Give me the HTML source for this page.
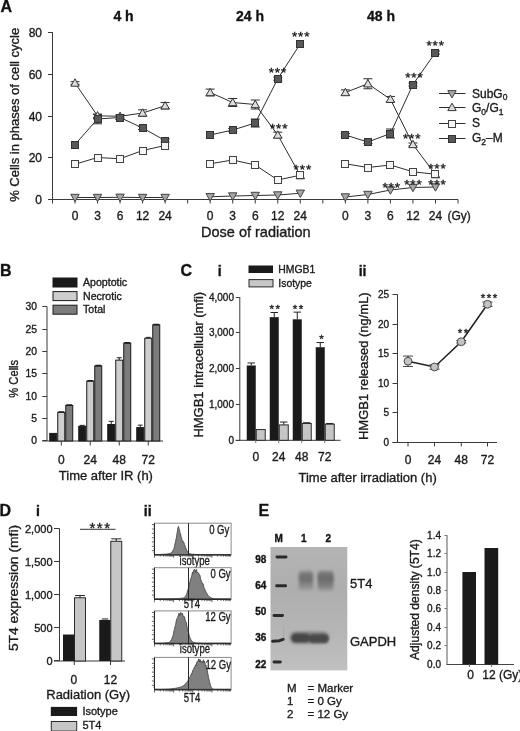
<!DOCTYPE html>
<html lang="en"><head><meta charset="utf-8"><title>Figure</title>
<style>
html,body{margin:0;padding:0;background:#fff;}
svg{display:block;font-family:"Liberation Sans",Arial,Helvetica,sans-serif;}
text{stroke:#1c1c1c;stroke-width:0.35px;}
</style></head><body>
<svg width="520" height="731" viewBox="0 0 520 731">
<rect x="0" y="0" width="520" height="731" fill="#ffffff"/>
<text x="0.50" y="12.00" font-size="16" text-anchor="start" font-weight="bold" fill="#111" >A</text>
<text x="123.50" y="21.00" font-size="14" text-anchor="middle" font-weight="bold" fill="#111" >4 h</text>
<text x="250.00" y="21.00" font-size="14" text-anchor="middle" font-weight="bold" fill="#111" >24 h</text>
<text x="381.00" y="21.00" font-size="14" text-anchor="middle" font-weight="bold" fill="#111" >48 h</text>
<line x1="52.50" y1="32.00" x2="52.50" y2="203.50" stroke="#3a3a3a" stroke-width="1" />
<line x1="48.00" y1="199.50" x2="458.00" y2="199.50" stroke="#3a3a3a" stroke-width="1" />
<line x1="48.00" y1="199.50" x2="52.50" y2="199.50" stroke="#3a3a3a" stroke-width="1" />
<text x="42.00" y="203.80" font-size="12" text-anchor="end" font-weight="normal" fill="#1c1c1c" >0</text>
<line x1="48.00" y1="157.50" x2="52.50" y2="157.50" stroke="#3a3a3a" stroke-width="1" />
<text x="42.00" y="161.80" font-size="12" text-anchor="end" font-weight="normal" fill="#1c1c1c" >20</text>
<line x1="48.00" y1="116.50" x2="52.50" y2="116.50" stroke="#3a3a3a" stroke-width="1" />
<text x="42.00" y="120.80" font-size="12" text-anchor="end" font-weight="normal" fill="#1c1c1c" >40</text>
<line x1="48.00" y1="74.50" x2="52.50" y2="74.50" stroke="#3a3a3a" stroke-width="1" />
<text x="42.00" y="78.80" font-size="12" text-anchor="end" font-weight="normal" fill="#1c1c1c" >60</text>
<line x1="48.00" y1="32.50" x2="52.50" y2="32.50" stroke="#3a3a3a" stroke-width="1" />
<text x="42.00" y="36.80" font-size="12" text-anchor="end" font-weight="normal" fill="#1c1c1c" >80</text>
<line x1="75.00" y1="199.50" x2="75.00" y2="203.50" stroke="#3a3a3a" stroke-width="1" />
<line x1="97.53" y1="199.50" x2="97.53" y2="203.50" stroke="#3a3a3a" stroke-width="1" />
<line x1="120.06" y1="199.50" x2="120.06" y2="203.50" stroke="#3a3a3a" stroke-width="1" />
<line x1="142.59" y1="199.50" x2="142.59" y2="203.50" stroke="#3a3a3a" stroke-width="1" />
<line x1="165.12" y1="199.50" x2="165.12" y2="203.50" stroke="#3a3a3a" stroke-width="1" />
<line x1="187.65" y1="199.50" x2="187.65" y2="203.50" stroke="#3a3a3a" stroke-width="1" />
<line x1="210.18" y1="199.50" x2="210.18" y2="203.50" stroke="#3a3a3a" stroke-width="1" />
<line x1="232.71" y1="199.50" x2="232.71" y2="203.50" stroke="#3a3a3a" stroke-width="1" />
<line x1="255.24" y1="199.50" x2="255.24" y2="203.50" stroke="#3a3a3a" stroke-width="1" />
<line x1="277.77" y1="199.50" x2="277.77" y2="203.50" stroke="#3a3a3a" stroke-width="1" />
<line x1="300.30" y1="199.50" x2="300.30" y2="203.50" stroke="#3a3a3a" stroke-width="1" />
<line x1="322.83" y1="199.50" x2="322.83" y2="203.50" stroke="#3a3a3a" stroke-width="1" />
<line x1="345.36" y1="199.50" x2="345.36" y2="203.50" stroke="#3a3a3a" stroke-width="1" />
<line x1="367.89" y1="199.50" x2="367.89" y2="203.50" stroke="#3a3a3a" stroke-width="1" />
<line x1="390.42" y1="199.50" x2="390.42" y2="203.50" stroke="#3a3a3a" stroke-width="1" />
<line x1="412.95" y1="199.50" x2="412.95" y2="203.50" stroke="#3a3a3a" stroke-width="1" />
<line x1="435.48" y1="199.50" x2="435.48" y2="203.50" stroke="#3a3a3a" stroke-width="1" />
<line x1="458.01" y1="199.50" x2="458.01" y2="203.50" stroke="#3a3a3a" stroke-width="1" />
<text transform="translate(19.00,201.80) rotate(-90)" font-size="13" text-anchor="start" fill="#1c1c1c"  textLength="174" lengthAdjust="spacingAndGlyphs">% Cells in phases of cell cycle</text>
<text x="75.00" y="219.50" font-size="12" text-anchor="middle" font-weight="normal" fill="#1c1c1c" >0</text>
<text x="97.53" y="219.50" font-size="12" text-anchor="middle" font-weight="normal" fill="#1c1c1c" >3</text>
<text x="120.06" y="219.50" font-size="12" text-anchor="middle" font-weight="normal" fill="#1c1c1c" >6</text>
<text x="142.59" y="219.50" font-size="12" text-anchor="middle" font-weight="normal" fill="#1c1c1c" >12</text>
<text x="165.12" y="219.50" font-size="12" text-anchor="middle" font-weight="normal" fill="#1c1c1c" >24</text>
<text x="210.18" y="219.50" font-size="12" text-anchor="middle" font-weight="normal" fill="#1c1c1c" >0</text>
<text x="232.71" y="219.50" font-size="12" text-anchor="middle" font-weight="normal" fill="#1c1c1c" >3</text>
<text x="255.24" y="219.50" font-size="12" text-anchor="middle" font-weight="normal" fill="#1c1c1c" >6</text>
<text x="277.77" y="219.50" font-size="12" text-anchor="middle" font-weight="normal" fill="#1c1c1c" >12</text>
<text x="300.30" y="219.50" font-size="12" text-anchor="middle" font-weight="normal" fill="#1c1c1c" >24</text>
<text x="345.36" y="219.50" font-size="12" text-anchor="middle" font-weight="normal" fill="#1c1c1c" >0</text>
<text x="367.89" y="219.50" font-size="12" text-anchor="middle" font-weight="normal" fill="#1c1c1c" >3</text>
<text x="390.42" y="219.50" font-size="12" text-anchor="middle" font-weight="normal" fill="#1c1c1c" >6</text>
<text x="412.95" y="219.50" font-size="12" text-anchor="middle" font-weight="normal" fill="#1c1c1c" >12</text>
<text x="435.48" y="219.50" font-size="12" text-anchor="middle" font-weight="normal" fill="#1c1c1c" >24</text>
<text x="447.50" y="219.50" font-size="12" text-anchor="start" font-weight="normal" fill="#1c1c1c" >(Gy)</text>
<text x="201.00" y="237.00" font-size="14.5" text-anchor="start" font-weight="normal" fill="#1c1c1c" >Dose of radiation</text>
<polyline points="75.00,197.50 97.53,197.50 120.06,197.30 142.59,197.50 165.12,197.50" fill="none" stroke="#2e2e2e" stroke-width="1"/>
<polyline points="75.00,164.25 97.53,157.50 120.06,158.75 142.59,150.50 165.12,145.50" fill="none" stroke="#2e2e2e" stroke-width="1"/>
<polyline points="75.00,83.00 97.53,115.80 120.06,116.30 142.59,113.00 165.12,105.75" fill="none" stroke="#2e2e2e" stroke-width="1"/>
<polyline points="75.00,144.50 97.53,119.00 120.06,117.50 142.59,128.00 165.12,140.50" fill="none" stroke="#2e2e2e" stroke-width="1"/>
<line x1="75.00" y1="81.70" x2="75.00" y2="84.30" stroke="#2e2e2e" stroke-width="1" />
<line x1="70.50" y1="81.70" x2="79.50" y2="81.70" stroke="#2e2e2e" stroke-width="1" />
<line x1="70.50" y1="84.30" x2="79.50" y2="84.30" stroke="#2e2e2e" stroke-width="1" />
<line x1="97.53" y1="114.30" x2="97.53" y2="117.30" stroke="#2e2e2e" stroke-width="1" />
<line x1="93.03" y1="114.30" x2="102.03" y2="114.30" stroke="#2e2e2e" stroke-width="1" />
<line x1="93.03" y1="117.30" x2="102.03" y2="117.30" stroke="#2e2e2e" stroke-width="1" />
<line x1="120.06" y1="114.80" x2="120.06" y2="117.80" stroke="#2e2e2e" stroke-width="1" />
<line x1="115.56" y1="114.80" x2="124.56" y2="114.80" stroke="#2e2e2e" stroke-width="1" />
<line x1="115.56" y1="117.80" x2="124.56" y2="117.80" stroke="#2e2e2e" stroke-width="1" />
<line x1="142.59" y1="109.80" x2="142.59" y2="116.20" stroke="#2e2e2e" stroke-width="1" />
<line x1="138.09" y1="109.80" x2="147.09" y2="109.80" stroke="#2e2e2e" stroke-width="1" />
<line x1="138.09" y1="116.20" x2="147.09" y2="116.20" stroke="#2e2e2e" stroke-width="1" />
<line x1="165.12" y1="102.55" x2="165.12" y2="108.95" stroke="#2e2e2e" stroke-width="1" />
<line x1="160.62" y1="102.55" x2="169.62" y2="102.55" stroke="#2e2e2e" stroke-width="1" />
<line x1="160.62" y1="108.95" x2="169.62" y2="108.95" stroke="#2e2e2e" stroke-width="1" />
<line x1="97.53" y1="114.20" x2="97.53" y2="123.80" stroke="#2e2e2e" stroke-width="1" />
<line x1="93.03" y1="114.20" x2="102.03" y2="114.20" stroke="#2e2e2e" stroke-width="1" />
<line x1="93.03" y1="123.80" x2="102.03" y2="123.80" stroke="#2e2e2e" stroke-width="1" />
<line x1="120.06" y1="115.50" x2="120.06" y2="119.50" stroke="#2e2e2e" stroke-width="1" />
<line x1="115.56" y1="115.50" x2="124.56" y2="115.50" stroke="#2e2e2e" stroke-width="1" />
<line x1="115.56" y1="119.50" x2="124.56" y2="119.50" stroke="#2e2e2e" stroke-width="1" />
<line x1="142.59" y1="126.50" x2="142.59" y2="129.50" stroke="#2e2e2e" stroke-width="1" />
<line x1="138.09" y1="126.50" x2="147.09" y2="126.50" stroke="#2e2e2e" stroke-width="1" />
<line x1="138.09" y1="129.50" x2="147.09" y2="129.50" stroke="#2e2e2e" stroke-width="1" />
<line x1="165.12" y1="139.00" x2="165.12" y2="142.00" stroke="#2e2e2e" stroke-width="1" />
<line x1="160.62" y1="139.00" x2="169.62" y2="139.00" stroke="#2e2e2e" stroke-width="1" />
<line x1="160.62" y1="142.00" x2="169.62" y2="142.00" stroke="#2e2e2e" stroke-width="1" />
<polygon points="75.00,201.70 79.20,194.30 70.80,194.30" fill="#a6a6a6" stroke="#444" stroke-width="1" stroke-linejoin="miter"/>
<polygon points="97.53,201.70 101.73,194.30 93.33,194.30" fill="#a6a6a6" stroke="#444" stroke-width="1" stroke-linejoin="miter"/>
<polygon points="120.06,201.50 124.26,194.10 115.86,194.10" fill="#a6a6a6" stroke="#444" stroke-width="1" stroke-linejoin="miter"/>
<polygon points="142.59,201.70 146.79,194.30 138.39,194.30" fill="#a6a6a6" stroke="#444" stroke-width="1" stroke-linejoin="miter"/>
<polygon points="165.12,201.70 169.32,194.30 160.92,194.30" fill="#a6a6a6" stroke="#444" stroke-width="1" stroke-linejoin="miter"/>
<polygon points="75.00,78.80 79.20,86.20 70.80,86.20" fill="#dcdcdc" stroke="#333" stroke-width="1" stroke-linejoin="miter"/>
<polygon points="97.53,111.60 101.73,119.00 93.33,119.00" fill="#dcdcdc" stroke="#333" stroke-width="1" stroke-linejoin="miter"/>
<polygon points="120.06,112.10 124.26,119.50 115.86,119.50" fill="#dcdcdc" stroke="#333" stroke-width="1" stroke-linejoin="miter"/>
<polygon points="142.59,108.80 146.79,116.20 138.39,116.20" fill="#dcdcdc" stroke="#333" stroke-width="1" stroke-linejoin="miter"/>
<polygon points="165.12,101.55 169.32,108.95 160.92,108.95" fill="#dcdcdc" stroke="#333" stroke-width="1" stroke-linejoin="miter"/>
<rect x="71.50" y="141.50" width="7.00" height="7.00" fill="#585858" stroke="#333" stroke-width="1" />
<rect x="94.50" y="115.50" width="7.00" height="7.00" fill="#585858" stroke="#333" stroke-width="1" />
<rect x="116.50" y="114.50" width="7.00" height="7.00" fill="#585858" stroke="#333" stroke-width="1" />
<rect x="139.50" y="124.50" width="7.00" height="7.00" fill="#585858" stroke="#333" stroke-width="1" />
<rect x="161.50" y="137.50" width="7.00" height="7.00" fill="#585858" stroke="#333" stroke-width="1" />
<rect x="71.50" y="160.50" width="7.00" height="7.00" fill="#f6f6f6" stroke="#444" stroke-width="1" />
<rect x="94.50" y="154.50" width="7.00" height="7.00" fill="#f6f6f6" stroke="#444" stroke-width="1" />
<rect x="116.50" y="155.50" width="7.00" height="7.00" fill="#f6f6f6" stroke="#444" stroke-width="1" />
<rect x="139.50" y="147.50" width="7.00" height="7.00" fill="#f6f6f6" stroke="#444" stroke-width="1" />
<rect x="161.50" y="142.50" width="7.00" height="7.00" fill="#f6f6f6" stroke="#444" stroke-width="1" />
<polyline points="210.18,196.75 232.71,196.00 255.24,195.50 277.77,195.00 300.30,193.25" fill="none" stroke="#2e2e2e" stroke-width="1"/>
<polyline points="210.18,163.75 232.71,160.00 255.24,165.00 277.77,180.00 300.30,175.20" fill="none" stroke="#2e2e2e" stroke-width="1"/>
<polyline points="210.18,92.50 232.71,102.50 255.24,104.50 277.77,135.00 300.30,175.60" fill="none" stroke="#2e2e2e" stroke-width="1"/>
<polyline points="210.18,135.00 232.71,130.00 255.24,123.00 277.77,78.75 300.30,43.75" fill="none" stroke="#2e2e2e" stroke-width="1"/>
<line x1="210.18" y1="89.10" x2="210.18" y2="95.90" stroke="#2e2e2e" stroke-width="1" />
<line x1="205.68" y1="89.10" x2="214.68" y2="89.10" stroke="#2e2e2e" stroke-width="1" />
<line x1="205.68" y1="95.90" x2="214.68" y2="95.90" stroke="#2e2e2e" stroke-width="1" />
<line x1="232.71" y1="98.50" x2="232.71" y2="106.50" stroke="#2e2e2e" stroke-width="1" />
<line x1="228.21" y1="98.50" x2="237.21" y2="98.50" stroke="#2e2e2e" stroke-width="1" />
<line x1="228.21" y1="106.50" x2="237.21" y2="106.50" stroke="#2e2e2e" stroke-width="1" />
<line x1="255.24" y1="100.00" x2="255.24" y2="109.00" stroke="#2e2e2e" stroke-width="1" />
<line x1="250.74" y1="100.00" x2="259.74" y2="100.00" stroke="#2e2e2e" stroke-width="1" />
<line x1="250.74" y1="109.00" x2="259.74" y2="109.00" stroke="#2e2e2e" stroke-width="1" />
<line x1="277.77" y1="132.20" x2="277.77" y2="137.80" stroke="#2e2e2e" stroke-width="1" />
<line x1="273.27" y1="132.20" x2="282.27" y2="132.20" stroke="#2e2e2e" stroke-width="1" />
<line x1="273.27" y1="137.80" x2="282.27" y2="137.80" stroke="#2e2e2e" stroke-width="1" />
<line x1="232.71" y1="128.50" x2="232.71" y2="131.50" stroke="#2e2e2e" stroke-width="1" />
<line x1="228.21" y1="128.50" x2="237.21" y2="128.50" stroke="#2e2e2e" stroke-width="1" />
<line x1="228.21" y1="131.50" x2="237.21" y2="131.50" stroke="#2e2e2e" stroke-width="1" />
<line x1="255.24" y1="119.00" x2="255.24" y2="127.00" stroke="#2e2e2e" stroke-width="1" />
<line x1="250.74" y1="119.00" x2="259.74" y2="119.00" stroke="#2e2e2e" stroke-width="1" />
<line x1="250.74" y1="127.00" x2="259.74" y2="127.00" stroke="#2e2e2e" stroke-width="1" />
<line x1="277.77" y1="77.25" x2="277.77" y2="80.25" stroke="#2e2e2e" stroke-width="1" />
<line x1="273.27" y1="77.25" x2="282.27" y2="77.25" stroke="#2e2e2e" stroke-width="1" />
<line x1="273.27" y1="80.25" x2="282.27" y2="80.25" stroke="#2e2e2e" stroke-width="1" />
<polygon points="210.18,200.95 214.38,193.55 205.98,193.55" fill="#a6a6a6" stroke="#444" stroke-width="1" stroke-linejoin="miter"/>
<polygon points="232.71,200.20 236.91,192.80 228.51,192.80" fill="#a6a6a6" stroke="#444" stroke-width="1" stroke-linejoin="miter"/>
<polygon points="255.24,199.70 259.44,192.30 251.04,192.30" fill="#a6a6a6" stroke="#444" stroke-width="1" stroke-linejoin="miter"/>
<polygon points="277.77,199.20 281.97,191.80 273.57,191.80" fill="#a6a6a6" stroke="#444" stroke-width="1" stroke-linejoin="miter"/>
<polygon points="300.30,197.45 304.50,190.05 296.10,190.05" fill="#a6a6a6" stroke="#444" stroke-width="1" stroke-linejoin="miter"/>
<polygon points="210.18,88.30 214.38,95.70 205.98,95.70" fill="#dcdcdc" stroke="#333" stroke-width="1" stroke-linejoin="miter"/>
<polygon points="232.71,98.30 236.91,105.70 228.51,105.70" fill="#dcdcdc" stroke="#333" stroke-width="1" stroke-linejoin="miter"/>
<polygon points="255.24,100.30 259.44,107.70 251.04,107.70" fill="#dcdcdc" stroke="#333" stroke-width="1" stroke-linejoin="miter"/>
<polygon points="277.77,130.80 281.97,138.20 273.57,138.20" fill="#dcdcdc" stroke="#333" stroke-width="1" stroke-linejoin="miter"/>
<polygon points="300.30,171.40 304.50,178.80 296.10,178.80" fill="#dcdcdc" stroke="#333" stroke-width="1" stroke-linejoin="miter"/>
<rect x="206.50" y="131.50" width="7.00" height="7.00" fill="#585858" stroke="#333" stroke-width="1" />
<rect x="229.50" y="126.50" width="7.00" height="7.00" fill="#585858" stroke="#333" stroke-width="1" />
<rect x="251.50" y="119.50" width="7.00" height="7.00" fill="#585858" stroke="#333" stroke-width="1" />
<rect x="274.50" y="75.50" width="7.00" height="7.00" fill="#585858" stroke="#333" stroke-width="1" />
<rect x="296.50" y="40.50" width="7.00" height="7.00" fill="#585858" stroke="#333" stroke-width="1" />
<rect x="206.50" y="160.50" width="7.00" height="7.00" fill="#f6f6f6" stroke="#444" stroke-width="1" />
<rect x="229.50" y="156.50" width="7.00" height="7.00" fill="#f6f6f6" stroke="#444" stroke-width="1" />
<rect x="251.50" y="161.50" width="7.00" height="7.00" fill="#f6f6f6" stroke="#444" stroke-width="1" />
<rect x="274.50" y="176.50" width="7.00" height="7.00" fill="#f6f6f6" stroke="#444" stroke-width="1" />
<rect x="296.50" y="171.50" width="7.00" height="7.00" fill="#f6f6f6" stroke="#444" stroke-width="1" />
<polyline points="345.36,197.00 367.89,194.50 390.42,190.00 412.95,187.50 435.48,187.00" fill="none" stroke="#2e2e2e" stroke-width="1"/>
<polyline points="345.36,163.75 367.89,167.50 390.42,165.00 412.95,171.75 435.48,174.25" fill="none" stroke="#2e2e2e" stroke-width="1"/>
<polyline points="345.36,92.50 367.89,83.75 390.42,99.25 412.95,144.50 435.48,174.60" fill="none" stroke="#2e2e2e" stroke-width="1"/>
<polyline points="345.36,135.00 367.89,142.00 390.42,133.50 412.95,84.50 435.48,52.50" fill="none" stroke="#2e2e2e" stroke-width="1"/>
<line x1="345.36" y1="89.90" x2="345.36" y2="95.10" stroke="#2e2e2e" stroke-width="1" />
<line x1="340.86" y1="89.90" x2="349.86" y2="89.90" stroke="#2e2e2e" stroke-width="1" />
<line x1="340.86" y1="95.10" x2="349.86" y2="95.10" stroke="#2e2e2e" stroke-width="1" />
<line x1="367.89" y1="78.75" x2="367.89" y2="88.75" stroke="#2e2e2e" stroke-width="1" />
<line x1="363.39" y1="78.75" x2="372.39" y2="78.75" stroke="#2e2e2e" stroke-width="1" />
<line x1="363.39" y1="88.75" x2="372.39" y2="88.75" stroke="#2e2e2e" stroke-width="1" />
<line x1="390.42" y1="96.45" x2="390.42" y2="102.05" stroke="#2e2e2e" stroke-width="1" />
<line x1="385.92" y1="96.45" x2="394.92" y2="96.45" stroke="#2e2e2e" stroke-width="1" />
<line x1="385.92" y1="102.05" x2="394.92" y2="102.05" stroke="#2e2e2e" stroke-width="1" />
<line x1="412.95" y1="143.00" x2="412.95" y2="146.00" stroke="#2e2e2e" stroke-width="1" />
<line x1="408.45" y1="143.00" x2="417.45" y2="143.00" stroke="#2e2e2e" stroke-width="1" />
<line x1="408.45" y1="146.00" x2="417.45" y2="146.00" stroke="#2e2e2e" stroke-width="1" />
<line x1="345.36" y1="133.50" x2="345.36" y2="136.50" stroke="#2e2e2e" stroke-width="1" />
<line x1="340.86" y1="133.50" x2="349.86" y2="133.50" stroke="#2e2e2e" stroke-width="1" />
<line x1="340.86" y1="136.50" x2="349.86" y2="136.50" stroke="#2e2e2e" stroke-width="1" />
<line x1="367.89" y1="140.50" x2="367.89" y2="143.50" stroke="#2e2e2e" stroke-width="1" />
<line x1="363.39" y1="140.50" x2="372.39" y2="140.50" stroke="#2e2e2e" stroke-width="1" />
<line x1="363.39" y1="143.50" x2="372.39" y2="143.50" stroke="#2e2e2e" stroke-width="1" />
<line x1="390.42" y1="129.00" x2="390.42" y2="138.00" stroke="#2e2e2e" stroke-width="1" />
<line x1="385.92" y1="129.00" x2="394.92" y2="129.00" stroke="#2e2e2e" stroke-width="1" />
<line x1="385.92" y1="138.00" x2="394.92" y2="138.00" stroke="#2e2e2e" stroke-width="1" />
<line x1="412.95" y1="83.00" x2="412.95" y2="86.00" stroke="#2e2e2e" stroke-width="1" />
<line x1="408.45" y1="83.00" x2="417.45" y2="83.00" stroke="#2e2e2e" stroke-width="1" />
<line x1="408.45" y1="86.00" x2="417.45" y2="86.00" stroke="#2e2e2e" stroke-width="1" />
<line x1="435.48" y1="51.00" x2="435.48" y2="54.00" stroke="#2e2e2e" stroke-width="1" />
<line x1="430.98" y1="51.00" x2="439.98" y2="51.00" stroke="#2e2e2e" stroke-width="1" />
<line x1="430.98" y1="54.00" x2="439.98" y2="54.00" stroke="#2e2e2e" stroke-width="1" />
<polygon points="345.36,201.20 349.56,193.80 341.16,193.80" fill="#a6a6a6" stroke="#444" stroke-width="1" stroke-linejoin="miter"/>
<polygon points="367.89,198.70 372.09,191.30 363.69,191.30" fill="#a6a6a6" stroke="#444" stroke-width="1" stroke-linejoin="miter"/>
<polygon points="390.42,194.20 394.62,186.80 386.22,186.80" fill="#a6a6a6" stroke="#444" stroke-width="1" stroke-linejoin="miter"/>
<polygon points="412.95,191.70 417.15,184.30 408.75,184.30" fill="#a6a6a6" stroke="#444" stroke-width="1" stroke-linejoin="miter"/>
<polygon points="435.48,191.20 439.68,183.80 431.28,183.80" fill="#a6a6a6" stroke="#444" stroke-width="1" stroke-linejoin="miter"/>
<polygon points="345.36,88.30 349.56,95.70 341.16,95.70" fill="#dcdcdc" stroke="#333" stroke-width="1" stroke-linejoin="miter"/>
<polygon points="367.89,79.55 372.09,86.95 363.69,86.95" fill="#dcdcdc" stroke="#333" stroke-width="1" stroke-linejoin="miter"/>
<polygon points="390.42,95.05 394.62,102.45 386.22,102.45" fill="#dcdcdc" stroke="#333" stroke-width="1" stroke-linejoin="miter"/>
<polygon points="412.95,140.30 417.15,147.70 408.75,147.70" fill="#dcdcdc" stroke="#333" stroke-width="1" stroke-linejoin="miter"/>
<polygon points="435.48,170.40 439.68,177.80 431.28,177.80" fill="#dcdcdc" stroke="#333" stroke-width="1" stroke-linejoin="miter"/>
<rect x="341.50" y="131.50" width="7.00" height="7.00" fill="#585858" stroke="#333" stroke-width="1" />
<rect x="364.50" y="138.50" width="7.00" height="7.00" fill="#585858" stroke="#333" stroke-width="1" />
<rect x="386.50" y="130.50" width="7.00" height="7.00" fill="#585858" stroke="#333" stroke-width="1" />
<rect x="409.50" y="81.50" width="7.00" height="7.00" fill="#585858" stroke="#333" stroke-width="1" />
<rect x="431.50" y="49.50" width="7.00" height="7.00" fill="#585858" stroke="#333" stroke-width="1" />
<rect x="341.50" y="160.50" width="7.00" height="7.00" fill="#f6f6f6" stroke="#444" stroke-width="1" />
<rect x="364.50" y="164.50" width="7.00" height="7.00" fill="#f6f6f6" stroke="#444" stroke-width="1" />
<rect x="386.50" y="161.50" width="7.00" height="7.00" fill="#f6f6f6" stroke="#444" stroke-width="1" />
<rect x="409.50" y="168.50" width="7.00" height="7.00" fill="#f6f6f6" stroke="#444" stroke-width="1" />
<rect x="431.50" y="170.50" width="7.00" height="7.00" fill="#f6f6f6" stroke="#444" stroke-width="1" />
<text x="277.95" y="77.16" font-size="13.5" text-anchor="middle" font-weight="normal" fill="#1c1c1c" letter-spacing="0.9" stroke-width="0.6" >***</text>
<text x="301.15" y="41.16" font-size="13.5" text-anchor="middle" font-weight="normal" fill="#1c1c1c" letter-spacing="0.9" stroke-width="0.6" >***</text>
<text x="279.15" y="132.66" font-size="13.5" text-anchor="middle" font-weight="normal" fill="#1c1c1c" letter-spacing="0.9" stroke-width="0.6" >***</text>
<text x="302.85" y="174.16" font-size="13.5" text-anchor="middle" font-weight="normal" fill="#1c1c1c" letter-spacing="0.9" stroke-width="0.6" >***</text>
<text x="414.45" y="82.16" font-size="13.5" text-anchor="middle" font-weight="normal" fill="#1c1c1c" letter-spacing="0.9" stroke-width="0.6" >***</text>
<text x="435.65" y="50.45" font-size="13.5" text-anchor="middle" font-weight="normal" fill="#1c1c1c" letter-spacing="0.9" stroke-width="0.6" >***</text>
<text x="412.15" y="143.16" font-size="13.5" text-anchor="middle" font-weight="normal" fill="#1c1c1c" letter-spacing="0.9" stroke-width="0.6" >***</text>
<text x="437.45" y="172.66" font-size="13.5" text-anchor="middle" font-weight="normal" fill="#1c1c1c" letter-spacing="0.9" stroke-width="0.6" >***</text>
<text x="391.65" y="192.16" font-size="13.5" text-anchor="middle" font-weight="normal" fill="#1c1c1c" letter-spacing="0.9" stroke-width="0.6" >***</text>
<text x="413.45" y="189.16" font-size="13.5" text-anchor="middle" font-weight="normal" fill="#1c1c1c" letter-spacing="0.9" stroke-width="0.6" >***</text>
<text x="437.45" y="189.16" font-size="13.5" text-anchor="middle" font-weight="normal" fill="#1c1c1c" letter-spacing="0.9" stroke-width="0.6" >***</text>
<line x1="439.00" y1="93.50" x2="465.50" y2="93.50" stroke="#2e2e2e" stroke-width="1" />
<line x1="439.00" y1="107.50" x2="465.50" y2="107.50" stroke="#2e2e2e" stroke-width="1" />
<line x1="439.00" y1="123.50" x2="465.50" y2="123.50" stroke="#2e2e2e" stroke-width="1" />
<line x1="439.00" y1="138.50" x2="465.50" y2="138.50" stroke="#2e2e2e" stroke-width="1" />
<polygon points="452.00,98.00 456.20,90.60 447.80,90.60" fill="#a6a6a6" stroke="#444" stroke-width="1" stroke-linejoin="miter"/>
<polygon points="452.00,103.20 456.20,110.60 447.80,110.60" fill="#dcdcdc" stroke="#333" stroke-width="1" stroke-linejoin="miter"/>
<rect x="448.50" y="120.50" width="7.00" height="7.00" fill="#f6f6f6" stroke="#444" stroke-width="1" />
<rect x="448.50" y="135.50" width="7.00" height="7.00" fill="#585858" stroke="#333" stroke-width="1" />
<text x="472" y="97.5" font-size="12" fill="#1c1c1c">SubG<tspan font-size="8.5" dy="2.5">0</tspan></text>
<text x="472" y="112.3" font-size="12" fill="#1c1c1c">G<tspan font-size="8.5" dy="2.5">0</tspan><tspan dy="-2.5">/G</tspan><tspan font-size="8.5" dy="2.5">1</tspan></text>
<text x="472" y="127.3" font-size="12" fill="#1c1c1c">S</text>
<text x="472" y="142.3" font-size="12" fill="#1c1c1c">G<tspan font-size="8.5" dy="2.5">2</tspan><tspan dy="-2.5">–M</tspan></text>
<text x="0.00" y="276.00" font-size="16" text-anchor="start" font-weight="bold" fill="#111" >B</text>
<line x1="47.00" y1="306.50" x2="47.00" y2="441.00" stroke="#3a3a3a" stroke-width="1" />
<line x1="42.30" y1="441.00" x2="163.00" y2="441.00" stroke="#3a3a3a" stroke-width="1" />
<line x1="42.30" y1="440.50" x2="47.00" y2="440.50" stroke="#3a3a3a" stroke-width="1" />
<text x="36.90" y="444.30" font-size="10.3" text-anchor="end" font-weight="normal" fill="#1c1c1c" >0</text>
<line x1="42.30" y1="418.50" x2="47.00" y2="418.50" stroke="#3a3a3a" stroke-width="1" />
<text x="36.90" y="422.30" font-size="10.3" text-anchor="end" font-weight="normal" fill="#1c1c1c" >5</text>
<line x1="42.30" y1="396.50" x2="47.00" y2="396.50" stroke="#3a3a3a" stroke-width="1" />
<text x="36.90" y="400.30" font-size="10.3" text-anchor="end" font-weight="normal" fill="#1c1c1c" >10</text>
<line x1="42.30" y1="373.50" x2="47.00" y2="373.50" stroke="#3a3a3a" stroke-width="1" />
<text x="36.90" y="377.30" font-size="10.3" text-anchor="end" font-weight="normal" fill="#1c1c1c" >15</text>
<line x1="42.30" y1="351.50" x2="47.00" y2="351.50" stroke="#3a3a3a" stroke-width="1" />
<text x="36.90" y="355.30" font-size="10.3" text-anchor="end" font-weight="normal" fill="#1c1c1c" >20</text>
<line x1="42.30" y1="329.50" x2="47.00" y2="329.50" stroke="#3a3a3a" stroke-width="1" />
<text x="36.90" y="333.30" font-size="10.3" text-anchor="end" font-weight="normal" fill="#1c1c1c" >25</text>
<line x1="42.30" y1="306.50" x2="47.00" y2="306.50" stroke="#3a3a3a" stroke-width="1" />
<text x="36.90" y="310.30" font-size="10.3" text-anchor="end" font-weight="normal" fill="#1c1c1c" >30</text>
<text transform="translate(18.40,397.70) rotate(-90)" font-size="13" text-anchor="start" fill="#1c1c1c"  textLength="37.9" lengthAdjust="spacingAndGlyphs">% Cells</text>
<rect x="49.75" y="433.41" width="7.00" height="7.59" fill="#1a1a1a" stroke="#1a1a1a" stroke-width="1" />
<rect x="57.75" y="412.41" width="7.00" height="28.59" fill="#cecece" stroke="#1a1a1a" stroke-width="1" />
<line x1="58.85" y1="412.01" x2="63.65" y2="412.01" stroke="#1a1a1a" stroke-width="1.5" stroke-linecap="round"/>
<rect x="65.75" y="405.49" width="7.00" height="35.51" fill="#7c7c7c" stroke="#1a1a1a" stroke-width="1" />
<line x1="66.85" y1="405.09" x2="71.65" y2="405.09" stroke="#1a1a1a" stroke-width="1.5" stroke-linecap="round"/>
<line x1="61.25" y1="441.00" x2="61.25" y2="445.50" stroke="#3a3a3a" stroke-width="1" />
<text x="61.25" y="463.50" font-size="12" text-anchor="middle" font-weight="normal" fill="#1c1c1c" >0</text>
<line x1="82.25" y1="426.26" x2="82.25" y2="425.37" stroke="#222" stroke-width="1" />
<line x1="79.75" y1="425.37" x2="84.75" y2="425.37" stroke="#222" stroke-width="1" />
<rect x="78.75" y="426.26" width="7.00" height="14.74" fill="#1a1a1a" stroke="#1a1a1a" stroke-width="1" />
<rect x="86.75" y="381.14" width="7.00" height="59.86" fill="#cecece" stroke="#1a1a1a" stroke-width="1" />
<line x1="87.85" y1="380.74" x2="92.65" y2="380.74" stroke="#1a1a1a" stroke-width="1.5" stroke-linecap="round"/>
<rect x="94.75" y="365.95" width="7.00" height="75.05" fill="#7c7c7c" stroke="#1a1a1a" stroke-width="1" />
<line x1="95.85" y1="365.55" x2="100.65" y2="365.55" stroke="#1a1a1a" stroke-width="1.5" stroke-linecap="round"/>
<line x1="90.25" y1="441.00" x2="90.25" y2="445.50" stroke="#3a3a3a" stroke-width="1" />
<text x="90.25" y="463.50" font-size="12" text-anchor="middle" font-weight="normal" fill="#1c1c1c" >24</text>
<line x1="111.25" y1="424.47" x2="111.25" y2="421.35" stroke="#222" stroke-width="1" />
<line x1="108.75" y1="421.35" x2="113.75" y2="421.35" stroke="#222" stroke-width="1" />
<rect x="107.75" y="424.47" width="7.00" height="16.53" fill="#1a1a1a" stroke="#1a1a1a" stroke-width="1" />
<line x1="119.25" y1="360.15" x2="119.25" y2="357.69" stroke="#222" stroke-width="1" />
<line x1="116.75" y1="357.69" x2="121.75" y2="357.69" stroke="#222" stroke-width="1" />
<rect x="115.75" y="360.15" width="7.00" height="80.85" fill="#cecece" stroke="#1a1a1a" stroke-width="1" />
<rect x="123.75" y="343.17" width="7.00" height="97.83" fill="#7c7c7c" stroke="#1a1a1a" stroke-width="1" />
<line x1="124.85" y1="342.77" x2="129.65" y2="342.77" stroke="#1a1a1a" stroke-width="1.5" stroke-linecap="round"/>
<line x1="119.25" y1="441.00" x2="119.25" y2="445.50" stroke="#3a3a3a" stroke-width="1" />
<text x="119.25" y="463.50" font-size="12" text-anchor="middle" font-weight="normal" fill="#1c1c1c" >48</text>
<line x1="140.25" y1="427.60" x2="140.25" y2="425.14" stroke="#222" stroke-width="1" />
<line x1="137.75" y1="425.14" x2="142.75" y2="425.14" stroke="#222" stroke-width="1" />
<rect x="136.75" y="427.60" width="7.00" height="13.40" fill="#1a1a1a" stroke="#1a1a1a" stroke-width="1" />
<line x1="148.25" y1="338.26" x2="148.25" y2="337.37" stroke="#222" stroke-width="1" />
<line x1="145.75" y1="337.37" x2="150.75" y2="337.37" stroke="#222" stroke-width="1" />
<rect x="144.75" y="338.26" width="7.00" height="102.74" fill="#cecece" stroke="#1a1a1a" stroke-width="1" />
<rect x="152.75" y="324.86" width="7.00" height="116.14" fill="#7c7c7c" stroke="#1a1a1a" stroke-width="1" />
<line x1="153.85" y1="324.46" x2="158.65" y2="324.46" stroke="#1a1a1a" stroke-width="1.5" stroke-linecap="round"/>
<line x1="148.25" y1="441.00" x2="148.25" y2="445.50" stroke="#3a3a3a" stroke-width="1" />
<text x="148.25" y="463.50" font-size="12" text-anchor="middle" font-weight="normal" fill="#1c1c1c" >72</text>
<text x="58.80" y="479.50" font-size="13" text-anchor="start" font-weight="normal" fill="#1c1c1c" >Time after IR (h)</text>
<rect x="53.00" y="278.00" width="24.00" height="9.00" fill="#1a1a1a" stroke="#1a1a1a" stroke-width="1" />
<text x="83.00" y="286.20" font-size="10.6" text-anchor="start" font-weight="normal" fill="#1c1c1c" >Apoptotic</text>
<rect x="53.00" y="291.60" width="24.00" height="9.00" fill="#cecece" stroke="#1a1a1a" stroke-width="1" />
<text x="83.00" y="299.80" font-size="10.6" text-anchor="start" font-weight="normal" fill="#1c1c1c" >Necrotic</text>
<rect x="53.00" y="305.20" width="24.00" height="9.00" fill="#7c7c7c" stroke="#1a1a1a" stroke-width="1" />
<text x="83.00" y="313.40" font-size="10.6" text-anchor="start" font-weight="normal" fill="#1c1c1c" >Total</text>
<text x="180.50" y="276.00" font-size="16" text-anchor="start" font-weight="bold" fill="#111" >C</text>
<text x="217.70" y="276.00" font-size="14" text-anchor="start" font-weight="bold" fill="#111" >i</text>
<line x1="239.80" y1="297.00" x2="239.80" y2="440.30" stroke="#3a3a3a" stroke-width="1" />
<line x1="235.80" y1="440.30" x2="340.50" y2="440.30" stroke="#3a3a3a" stroke-width="1" />
<line x1="235.80" y1="440.50" x2="239.80" y2="440.50" stroke="#3a3a3a" stroke-width="1" />
<text x="234.00" y="444.20" font-size="10" text-anchor="end" font-weight="normal" fill="#1c1c1c" >0</text>
<line x1="235.80" y1="404.50" x2="239.80" y2="404.50" stroke="#3a3a3a" stroke-width="1" />
<text x="234.00" y="408.20" font-size="10" text-anchor="end" font-weight="normal" fill="#1c1c1c" >1,000</text>
<line x1="235.80" y1="368.50" x2="239.80" y2="368.50" stroke="#3a3a3a" stroke-width="1" />
<text x="234.00" y="372.20" font-size="10" text-anchor="end" font-weight="normal" fill="#1c1c1c" >2,000</text>
<line x1="235.80" y1="332.50" x2="239.80" y2="332.50" stroke="#3a3a3a" stroke-width="1" />
<text x="234.00" y="336.20" font-size="10" text-anchor="end" font-weight="normal" fill="#1c1c1c" >3,000</text>
<line x1="235.80" y1="297.50" x2="239.80" y2="297.50" stroke="#3a3a3a" stroke-width="1" />
<text x="234.00" y="301.20" font-size="10" text-anchor="end" font-weight="normal" fill="#1c1c1c" >4,000</text>
<text transform="translate(203.20,437.60) rotate(-90)" font-size="13" text-anchor="start" fill="#1c1c1c"  textLength="145.8" lengthAdjust="spacingAndGlyphs">HMGB1 intracellular (mfi)</text>
<line x1="251.25" y1="365.48" x2="251.25" y2="362.97" stroke="#222" stroke-width="1" />
<line x1="247.55" y1="362.97" x2="254.95" y2="362.97" stroke="#222" stroke-width="1" />
<rect x="246.75" y="365.48" width="9.00" height="74.82" fill="#1a1a1a" stroke="none" stroke-width="1" />
<rect x="256.25" y="429.56" width="9.00" height="10.74" fill="#c6c6c6" stroke="#2a2a2a" stroke-width="1" />
<line x1="255.75" y1="440.30" x2="255.75" y2="443.10" stroke="#777" stroke-width="1" />
<text x="255.75" y="461.30" font-size="12" text-anchor="middle" font-weight="normal" fill="#1c1c1c" >0</text>
<line x1="274.25" y1="317.15" x2="274.25" y2="312.49" stroke="#222" stroke-width="1" />
<line x1="270.55" y1="312.49" x2="277.95" y2="312.49" stroke="#222" stroke-width="1" />
<rect x="269.75" y="317.15" width="9.00" height="123.15" fill="#1a1a1a" stroke="none" stroke-width="1" />
<line x1="283.75" y1="424.91" x2="283.75" y2="422.04" stroke="#222" stroke-width="1" />
<line x1="280.05" y1="422.04" x2="287.45" y2="422.04" stroke="#222" stroke-width="1" />
<rect x="279.25" y="424.91" width="9.00" height="15.39" fill="#c6c6c6" stroke="#2a2a2a" stroke-width="1" />
<line x1="278.75" y1="440.30" x2="278.75" y2="443.10" stroke="#777" stroke-width="1" />
<text x="278.75" y="461.30" font-size="12" text-anchor="middle" font-weight="normal" fill="#1c1c1c" >24</text>
<line x1="297.25" y1="319.30" x2="297.25" y2="312.14" stroke="#222" stroke-width="1" />
<line x1="293.55" y1="312.14" x2="300.95" y2="312.14" stroke="#222" stroke-width="1" />
<rect x="292.75" y="319.30" width="9.00" height="121.00" fill="#1a1a1a" stroke="none" stroke-width="1" />
<line x1="306.75" y1="423.47" x2="306.75" y2="422.76" stroke="#222" stroke-width="1" />
<line x1="303.05" y1="422.76" x2="310.45" y2="422.76" stroke="#222" stroke-width="1" />
<rect x="302.25" y="423.47" width="9.00" height="16.83" fill="#c6c6c6" stroke="#2a2a2a" stroke-width="1" />
<line x1="301.75" y1="440.30" x2="301.75" y2="443.10" stroke="#777" stroke-width="1" />
<text x="301.75" y="461.30" font-size="12" text-anchor="middle" font-weight="normal" fill="#1c1c1c" >48</text>
<line x1="320.25" y1="347.22" x2="320.25" y2="342.57" stroke="#222" stroke-width="1" />
<line x1="316.55" y1="342.57" x2="323.95" y2="342.57" stroke="#222" stroke-width="1" />
<rect x="315.75" y="347.22" width="9.00" height="93.08" fill="#1a1a1a" stroke="none" stroke-width="1" />
<line x1="329.75" y1="424.19" x2="329.75" y2="423.47" stroke="#222" stroke-width="1" />
<line x1="326.05" y1="423.47" x2="333.45" y2="423.47" stroke="#222" stroke-width="1" />
<rect x="325.25" y="424.19" width="9.00" height="16.11" fill="#c6c6c6" stroke="#2a2a2a" stroke-width="1" />
<line x1="324.75" y1="440.30" x2="324.75" y2="443.10" stroke="#777" stroke-width="1" />
<text x="324.75" y="461.30" font-size="12" text-anchor="middle" font-weight="normal" fill="#1c1c1c" >72</text>
<text x="275.60" y="312.80" font-size="11.5" text-anchor="middle" font-weight="normal" fill="#1c1c1c" letter-spacing="1.5" stroke-width="0.6" >**</text>
<text x="298.70" y="312.80" font-size="11.5" text-anchor="middle" font-weight="normal" fill="#1c1c1c" letter-spacing="1.5" stroke-width="0.6" >**</text>
<text x="321.60" y="342.80" font-size="11.5" text-anchor="middle" font-weight="normal" fill="#1c1c1c" letter-spacing="0" stroke-width="0.6" >*</text>
<rect x="248.50" y="265.50" width="24.50" height="7.50" fill="#1a1a1a" stroke="none" stroke-width="1" />
<rect x="249.00" y="279.60" width="24.00" height="7.30" fill="#c6c6c6" stroke="#2a2a2a" stroke-width="1" />
<text x="278.30" y="273.00" font-size="10.4" text-anchor="start" font-weight="normal" fill="#1c1c1c" >HMGB1</text>
<text x="278.30" y="286.80" font-size="10.4" text-anchor="start" font-weight="normal" fill="#1c1c1c" >Isotype</text>
<text x="298.50" y="482.00" font-size="13" text-anchor="start" font-weight="normal" fill="#1c1c1c" >Time after irradiation (h)</text>
<text x="358.70" y="276.00" font-size="14" text-anchor="start" font-weight="bold" fill="#111" >ii</text>
<line x1="397.50" y1="294.50" x2="397.50" y2="442.50" stroke="#3a3a3a" stroke-width="1" />
<line x1="392.50" y1="442.50" x2="497.00" y2="442.50" stroke="#3a3a3a" stroke-width="1" />
<line x1="392.50" y1="442.50" x2="397.50" y2="442.50" stroke="#3a3a3a" stroke-width="1" />
<text x="389.00" y="446.20" font-size="10" text-anchor="end" font-weight="normal" fill="#1c1c1c" >0</text>
<line x1="392.50" y1="412.50" x2="397.50" y2="412.50" stroke="#3a3a3a" stroke-width="1" />
<text x="389.00" y="416.20" font-size="10" text-anchor="end" font-weight="normal" fill="#1c1c1c" >5</text>
<line x1="392.50" y1="383.50" x2="397.50" y2="383.50" stroke="#3a3a3a" stroke-width="1" />
<text x="389.00" y="387.20" font-size="10" text-anchor="end" font-weight="normal" fill="#1c1c1c" >10</text>
<line x1="392.50" y1="353.50" x2="397.50" y2="353.50" stroke="#3a3a3a" stroke-width="1" />
<text x="389.00" y="357.20" font-size="10" text-anchor="end" font-weight="normal" fill="#1c1c1c" >15</text>
<line x1="392.50" y1="324.50" x2="397.50" y2="324.50" stroke="#3a3a3a" stroke-width="1" />
<text x="389.00" y="328.20" font-size="10" text-anchor="end" font-weight="normal" fill="#1c1c1c" >20</text>
<line x1="392.50" y1="294.50" x2="397.50" y2="294.50" stroke="#3a3a3a" stroke-width="1" />
<text x="389.00" y="298.20" font-size="10" text-anchor="end" font-weight="normal" fill="#1c1c1c" >25</text>
<text transform="translate(367.60,440.00) rotate(-90)" font-size="13" text-anchor="start" fill="#1c1c1c"  textLength="147.7" lengthAdjust="spacingAndGlyphs">HMGB1 released (ng/mL)</text>
<line x1="408.00" y1="442.50" x2="408.00" y2="446.50" stroke="#3a3a3a" stroke-width="1" />
<text x="408.00" y="464.00" font-size="12" text-anchor="middle" font-weight="normal" fill="#1c1c1c" >0</text>
<line x1="434.50" y1="442.50" x2="434.50" y2="446.50" stroke="#3a3a3a" stroke-width="1" />
<text x="434.50" y="464.00" font-size="12" text-anchor="middle" font-weight="normal" fill="#1c1c1c" >24</text>
<line x1="461.25" y1="442.50" x2="461.25" y2="446.50" stroke="#3a3a3a" stroke-width="1" />
<text x="461.25" y="464.00" font-size="12" text-anchor="middle" font-weight="normal" fill="#1c1c1c" >48</text>
<line x1="487.50" y1="442.50" x2="487.50" y2="446.50" stroke="#3a3a3a" stroke-width="1" />
<text x="487.50" y="464.00" font-size="12" text-anchor="middle" font-weight="normal" fill="#1c1c1c" >72</text>
<line x1="408.00" y1="356.05" x2="408.00" y2="366.45" stroke="#444" stroke-width="1" />
<line x1="403.00" y1="356.05" x2="413.00" y2="356.05" stroke="#444" stroke-width="1" />
<line x1="403.00" y1="366.45" x2="413.00" y2="366.45" stroke="#444" stroke-width="1" />
<line x1="434.50" y1="364.80" x2="434.50" y2="369.20" stroke="#444" stroke-width="1" />
<line x1="429.50" y1="364.80" x2="439.50" y2="364.80" stroke="#444" stroke-width="1" />
<line x1="429.50" y1="369.20" x2="439.50" y2="369.20" stroke="#444" stroke-width="1" />
<line x1="461.25" y1="340.55" x2="461.25" y2="342.95" stroke="#444" stroke-width="1" />
<line x1="456.25" y1="340.55" x2="466.25" y2="340.55" stroke="#444" stroke-width="1" />
<line x1="456.25" y1="342.95" x2="466.25" y2="342.95" stroke="#444" stroke-width="1" />
<line x1="487.50" y1="302.05" x2="487.50" y2="306.45" stroke="#444" stroke-width="1" />
<line x1="482.50" y1="302.05" x2="492.50" y2="302.05" stroke="#444" stroke-width="1" />
<line x1="482.50" y1="306.45" x2="492.50" y2="306.45" stroke="#444" stroke-width="1" />
<polyline points="408.00,361.25 434.50,367.00 461.25,341.75 487.50,304.25" fill="none" stroke="#1e1e1e" stroke-width="1.5"/>
<circle cx="408" cy="361.25" r="3.9" fill="#c4c4c4" stroke="#4a4a4a" stroke-width="1"/>
<circle cx="434.5" cy="367" r="3.9" fill="#c4c4c4" stroke="#4a4a4a" stroke-width="1"/>
<circle cx="461.25" cy="341.75" r="3.9" fill="#c4c4c4" stroke="#4a4a4a" stroke-width="1"/>
<circle cx="487.5" cy="304.25" r="3.9" fill="#c4c4c4" stroke="#4a4a4a" stroke-width="1"/>
<text x="463.75" y="336.80" font-size="11.5" text-anchor="middle" font-weight="normal" fill="#1c1c1c" letter-spacing="1.5" stroke-width="0.6" >**</text>
<text x="489.75" y="301.60" font-size="11.5" text-anchor="middle" font-weight="normal" fill="#1c1c1c" letter-spacing="1.5" stroke-width="0.6" >***</text>
<text x="-0.40" y="516.00" font-size="16" text-anchor="start" font-weight="bold" fill="#111" >D</text>
<text x="36.00" y="516.00" font-size="14" text-anchor="start" font-weight="bold" fill="#111" >i</text>
<line x1="59.50" y1="528.50" x2="59.50" y2="661.00" stroke="#3a3a3a" stroke-width="1" />
<line x1="54.00" y1="661.00" x2="125.00" y2="661.00" stroke="#3a3a3a" stroke-width="1" />
<line x1="54.00" y1="660.50" x2="59.50" y2="660.50" stroke="#3a3a3a" stroke-width="1" />
<text x="52.50" y="664.50" font-size="11" text-anchor="end" font-weight="normal" fill="#1c1c1c" >0</text>
<line x1="54.00" y1="627.50" x2="59.50" y2="627.50" stroke="#3a3a3a" stroke-width="1" />
<text x="52.50" y="631.50" font-size="11" text-anchor="end" font-weight="normal" fill="#1c1c1c" >500</text>
<line x1="54.00" y1="594.50" x2="59.50" y2="594.50" stroke="#3a3a3a" stroke-width="1" />
<text x="52.50" y="598.50" font-size="11" text-anchor="end" font-weight="normal" fill="#1c1c1c" >1,000</text>
<line x1="54.00" y1="561.50" x2="59.50" y2="561.50" stroke="#3a3a3a" stroke-width="1" />
<text x="52.50" y="565.50" font-size="11" text-anchor="end" font-weight="normal" fill="#1c1c1c" >1,500</text>
<line x1="54.00" y1="528.50" x2="59.50" y2="528.50" stroke="#3a3a3a" stroke-width="1" />
<text x="52.50" y="532.50" font-size="11" text-anchor="end" font-weight="normal" fill="#1c1c1c" >2,000</text>
<text transform="translate(17.90,651.10) rotate(-90)" font-size="13" text-anchor="start" fill="#1c1c1c"  textLength="126.2" lengthAdjust="spacingAndGlyphs">5T4 expression (mfi)</text>
<rect x="63.00" y="634.52" width="11.25" height="26.48" fill="#1a1a1a" stroke="none" stroke-width="1" />
<line x1="80.00" y1="597.78" x2="80.00" y2="595.59" stroke="#222" stroke-width="1" />
<line x1="75.00" y1="595.59" x2="85.00" y2="595.59" stroke="#222" stroke-width="1" />
<rect x="74.50" y="597.78" width="11.00" height="63.22" fill="#c6c6c6" stroke="#2a2a2a" stroke-width="1" />
<line x1="74.25" y1="661.00" x2="74.25" y2="665.00" stroke="#3a3a3a" stroke-width="1" />
<rect x="99.25" y="619.96" width="11.25" height="41.04" fill="#1a1a1a" stroke="none" stroke-width="1" />
<line x1="101.75" y1="618.96" x2="108.25" y2="618.96" stroke="#222" stroke-width="1" />
<line x1="116.25" y1="541.31" x2="116.25" y2="538.86" stroke="#222" stroke-width="1" />
<line x1="111.25" y1="538.86" x2="121.25" y2="538.86" stroke="#222" stroke-width="1" />
<rect x="110.75" y="541.31" width="11.00" height="119.69" fill="#c6c6c6" stroke="#2a2a2a" stroke-width="1" />
<line x1="110.50" y1="661.00" x2="110.50" y2="665.00" stroke="#3a3a3a" stroke-width="1" />
<text x="73.75" y="684.30" font-size="12" text-anchor="middle" font-weight="normal" fill="#1c1c1c" >0</text>
<text x="110.50" y="684.30" font-size="12" text-anchor="middle" font-weight="normal" fill="#1c1c1c" >12</text>
<text x="46.25" y="698.50" font-size="13" text-anchor="start" font-weight="normal" fill="#1c1c1c" >Radiation (Gy)</text>
<line x1="80.00" y1="529.30" x2="115.50" y2="529.30" stroke="#333" stroke-width="1" />
<text x="100.50" y="533.25" font-size="15" text-anchor="middle" font-weight="normal" fill="#1c1c1c" letter-spacing="1.5" stroke-width="0.6" >***</text>
<rect x="50.80" y="706.90" width="26.30" height="9.10" fill="#1a1a1a" stroke="none" stroke-width="1" />
<rect x="51.30" y="721.50" width="25.40" height="9.60" fill="#c6c6c6" stroke="#2a2a2a" stroke-width="1" />
<text x="82.40" y="714.90" font-size="11" text-anchor="start" font-weight="normal" fill="#1c1c1c" >Isotype</text>
<text x="82.40" y="729.40" font-size="11" text-anchor="start" font-weight="normal" fill="#1c1c1c" >5T4</text>
<text x="143.80" y="516.20" font-size="14" text-anchor="start" font-weight="bold" fill="#111" >ii</text>
<rect x="154.50" y="523.20" width="76.60" height="31.80" fill="#fff" stroke="#8a8a8a" stroke-width="1" />
<polygon points="155.00,554.50 155.00,554.50 155.50,554.50 156.00,554.50 156.50,554.50 157.00,554.50 157.50,554.50 158.00,554.50 158.50,554.50 159.00,554.50 159.50,554.50 160.00,554.50 160.50,554.46 161.00,554.42 161.50,554.39 162.00,554.35 162.50,554.32 163.00,554.27 163.50,554.23 164.00,554.20 164.50,554.16 165.00,554.12 165.50,554.12 166.00,554.04 166.50,553.97 167.00,553.91 167.50,553.85 168.00,553.69 168.50,553.65 169.00,553.53 169.50,553.43 170.00,553.37 170.50,553.25 171.00,552.90 171.50,552.34 172.00,552.00 172.50,551.36 173.00,550.14 173.50,549.47 174.00,548.32 174.50,546.35 175.00,543.36 175.50,542.18 176.00,539.07 176.50,537.10 177.00,533.52 177.50,530.38 178.00,527.60 178.50,526.34 179.00,528.58 179.50,529.71 180.00,532.65 180.50,534.00 181.00,536.27 181.50,537.65 182.00,539.73 182.50,541.78 183.00,541.19 183.50,541.78 184.00,542.93 184.50,544.44 185.00,545.57 185.50,547.50 186.00,548.31 186.50,549.52 187.00,550.67 187.50,551.72 188.00,552.01 188.50,552.60 189.00,553.38 189.50,553.46 190.00,553.70 190.50,553.90 191.00,554.07 191.50,554.09 192.00,554.13 192.50,554.21 193.00,554.23 193.50,554.29 194.00,554.32 194.50,554.37 195.00,554.41 195.50,554.45 196.00,554.50 196.50,554.50 197.00,554.50 197.50,554.50 198.00,554.50 198.50,554.50 199.00,554.50 199.50,554.50 200.00,554.50 200.50,554.50 201.00,554.50 201.50,554.50 202.00,554.50 202.50,554.50 203.00,554.50 203.50,554.50 204.00,554.50 204.50,554.50 205.00,554.50 205.50,554.50 206.00,554.50 206.50,554.50 207.00,554.50 207.50,554.50 208.00,554.50 208.50,554.50 209.00,554.50 209.50,554.50 210.00,554.50 210.50,554.50 211.00,554.50 211.50,554.50 212.00,554.50 212.50,554.50 213.00,554.50 213.50,554.50 214.00,554.50 214.50,554.50 215.00,554.50 215.50,554.50 216.00,554.50 216.50,554.50 217.00,554.50 217.50,554.50 218.00,554.50 218.50,554.50 219.00,554.50 219.50,554.50 220.00,554.50 220.50,554.50 221.00,554.50 221.50,554.50 222.00,554.50 222.50,554.50 223.00,554.50 223.50,554.50 224.00,554.50 224.50,554.50 225.00,554.50 225.50,554.50 226.00,554.50 226.50,554.50 227.00,554.50 227.50,554.50 228.00,554.50 228.50,554.50 229.00,554.50 229.50,554.50 230.00,554.50 230.50,554.50 230.60,554.50" fill="#808080" stroke="#3c3c3c" stroke-width="0.8" stroke-linejoin="miter"/>
<line x1="154.50" y1="523.20" x2="154.50" y2="555.50" stroke="#222" stroke-width="1" />
<line x1="154.00" y1="555.00" x2="231.10" y2="555.00" stroke="#222" stroke-width="1" />
<line x1="188.50" y1="523.20" x2="188.50" y2="555.00" stroke="#2a2a2a" stroke-width="1" />
<line x1="151.90" y1="524.70" x2="154.50" y2="524.70" stroke="#333" stroke-width="0.8" />
<line x1="153.10" y1="526.86" x2="154.50" y2="526.86" stroke="#555" stroke-width="0.6" />
<line x1="151.90" y1="529.03" x2="154.50" y2="529.03" stroke="#333" stroke-width="0.8" />
<line x1="153.10" y1="531.19" x2="154.50" y2="531.19" stroke="#555" stroke-width="0.6" />
<line x1="151.90" y1="533.36" x2="154.50" y2="533.36" stroke="#333" stroke-width="0.8" />
<line x1="153.10" y1="535.52" x2="154.50" y2="535.52" stroke="#555" stroke-width="0.6" />
<line x1="151.90" y1="537.69" x2="154.50" y2="537.69" stroke="#333" stroke-width="0.8" />
<line x1="153.10" y1="539.85" x2="154.50" y2="539.85" stroke="#555" stroke-width="0.6" />
<line x1="151.90" y1="542.01" x2="154.50" y2="542.01" stroke="#333" stroke-width="0.8" />
<line x1="153.10" y1="544.18" x2="154.50" y2="544.18" stroke="#555" stroke-width="0.6" />
<line x1="151.90" y1="546.34" x2="154.50" y2="546.34" stroke="#333" stroke-width="0.8" />
<line x1="153.10" y1="548.51" x2="154.50" y2="548.51" stroke="#555" stroke-width="0.6" />
<line x1="151.90" y1="550.67" x2="154.50" y2="550.67" stroke="#333" stroke-width="0.8" />
<line x1="153.10" y1="552.84" x2="154.50" y2="552.84" stroke="#555" stroke-width="0.6" />
<line x1="154.50" y1="555.00" x2="154.50" y2="557.80" stroke="#333" stroke-width="0.7" />
<line x1="160.26" y1="555.00" x2="160.26" y2="556.70" stroke="#333" stroke-width="0.7" />
<line x1="163.64" y1="555.00" x2="163.64" y2="556.70" stroke="#333" stroke-width="0.7" />
<line x1="166.03" y1="555.00" x2="166.03" y2="556.70" stroke="#333" stroke-width="0.7" />
<line x1="167.89" y1="555.00" x2="167.89" y2="556.70" stroke="#333" stroke-width="0.7" />
<line x1="169.40" y1="555.00" x2="169.40" y2="556.70" stroke="#333" stroke-width="0.7" />
<line x1="170.68" y1="555.00" x2="170.68" y2="556.70" stroke="#333" stroke-width="0.7" />
<line x1="171.79" y1="555.00" x2="171.79" y2="556.70" stroke="#333" stroke-width="0.7" />
<line x1="172.77" y1="555.00" x2="172.77" y2="556.70" stroke="#333" stroke-width="0.7" />
<line x1="173.65" y1="555.00" x2="173.65" y2="557.80" stroke="#333" stroke-width="0.7" />
<line x1="179.41" y1="555.00" x2="179.41" y2="556.70" stroke="#333" stroke-width="0.7" />
<line x1="182.79" y1="555.00" x2="182.79" y2="556.70" stroke="#333" stroke-width="0.7" />
<line x1="185.18" y1="555.00" x2="185.18" y2="556.70" stroke="#333" stroke-width="0.7" />
<line x1="187.04" y1="555.00" x2="187.04" y2="556.70" stroke="#333" stroke-width="0.7" />
<line x1="188.55" y1="555.00" x2="188.55" y2="556.70" stroke="#333" stroke-width="0.7" />
<line x1="189.83" y1="555.00" x2="189.83" y2="556.70" stroke="#333" stroke-width="0.7" />
<line x1="190.94" y1="555.00" x2="190.94" y2="556.70" stroke="#333" stroke-width="0.7" />
<line x1="191.92" y1="555.00" x2="191.92" y2="556.70" stroke="#333" stroke-width="0.7" />
<line x1="192.80" y1="555.00" x2="192.80" y2="557.80" stroke="#333" stroke-width="0.7" />
<line x1="198.56" y1="555.00" x2="198.56" y2="556.70" stroke="#333" stroke-width="0.7" />
<line x1="201.94" y1="555.00" x2="201.94" y2="556.70" stroke="#333" stroke-width="0.7" />
<line x1="204.33" y1="555.00" x2="204.33" y2="556.70" stroke="#333" stroke-width="0.7" />
<line x1="206.19" y1="555.00" x2="206.19" y2="556.70" stroke="#333" stroke-width="0.7" />
<line x1="207.70" y1="555.00" x2="207.70" y2="556.70" stroke="#333" stroke-width="0.7" />
<line x1="208.98" y1="555.00" x2="208.98" y2="556.70" stroke="#333" stroke-width="0.7" />
<line x1="210.09" y1="555.00" x2="210.09" y2="556.70" stroke="#333" stroke-width="0.7" />
<line x1="211.07" y1="555.00" x2="211.07" y2="556.70" stroke="#333" stroke-width="0.7" />
<line x1="211.95" y1="555.00" x2="211.95" y2="557.80" stroke="#333" stroke-width="0.7" />
<line x1="217.71" y1="555.00" x2="217.71" y2="556.70" stroke="#333" stroke-width="0.7" />
<line x1="221.09" y1="555.00" x2="221.09" y2="556.70" stroke="#333" stroke-width="0.7" />
<line x1="223.48" y1="555.00" x2="223.48" y2="556.70" stroke="#333" stroke-width="0.7" />
<line x1="225.34" y1="555.00" x2="225.34" y2="556.70" stroke="#333" stroke-width="0.7" />
<line x1="226.85" y1="555.00" x2="226.85" y2="556.70" stroke="#333" stroke-width="0.7" />
<line x1="228.13" y1="555.00" x2="228.13" y2="556.70" stroke="#333" stroke-width="0.7" />
<line x1="229.24" y1="555.00" x2="229.24" y2="556.70" stroke="#333" stroke-width="0.7" />
<line x1="230.22" y1="555.00" x2="230.22" y2="556.70" stroke="#333" stroke-width="0.7" />
<text x="229.3" y="533.80" font-size="12.3" text-anchor="end" fill="#1c1c1c" transform="translate(51.59,0) scale(0.775,1)">0 Gy</text>
<text x="194.7" y="564.80" font-size="12.3" text-anchor="middle" fill="#1c1c1c" transform="translate(43.81,0) scale(0.775,1)">isotype</text>
<rect x="154.50" y="567.70" width="76.60" height="31.70" fill="#fff" stroke="#8a8a8a" stroke-width="1" />
<polygon points="155.00,598.90 155.00,598.90 155.50,598.90 156.00,598.90 156.50,598.90 157.00,598.90 157.50,598.90 158.00,598.90 158.50,598.90 159.00,598.90 159.50,598.90 160.00,598.90 160.50,598.90 161.00,598.90 161.50,598.90 162.00,598.90 162.50,598.90 163.00,598.90 163.50,598.90 164.00,598.89 164.50,598.89 165.00,598.89 165.50,598.89 166.00,598.89 166.50,598.89 167.00,598.88 167.50,598.88 168.00,598.87 168.50,598.87 169.00,598.86 169.50,598.85 170.00,598.84 170.50,598.84 171.00,598.83 171.50,598.81 172.00,598.79 172.50,598.78 173.00,598.77 173.50,598.74 174.00,598.72 174.50,598.72 175.00,598.68 175.50,598.65 176.00,598.63 176.50,598.61 177.00,598.59 177.50,598.55 178.00,598.53 178.50,598.51 179.00,598.45 179.50,598.43 180.00,598.36 180.50,598.39 181.00,598.28 181.50,598.26 182.00,598.18 182.50,598.11 183.00,598.00 183.50,597.88 184.00,597.75 184.50,597.29 185.00,596.97 185.50,596.32 186.00,595.34 186.50,594.35 187.00,593.15 187.50,591.10 188.00,589.67 188.50,588.14 189.00,586.31 189.50,582.98 190.00,581.70 190.50,578.86 191.00,578.17 191.50,577.00 192.00,574.44 192.50,572.21 193.00,573.59 193.50,570.53 194.00,569.50 194.50,569.62 195.00,569.40 195.50,572.55 196.00,570.10 196.50,569.49 197.00,572.88 197.50,572.42 198.00,573.02 198.50,572.83 199.00,574.13 199.50,575.02 200.00,575.24 200.50,578.91 201.00,580.03 201.50,581.16 202.00,582.52 202.50,584.01 203.00,583.52 203.50,585.22 204.00,587.88 204.50,588.48 205.00,589.92 205.50,591.02 206.00,591.99 206.50,592.67 207.00,593.59 207.50,594.51 208.00,595.27 208.50,595.79 209.00,596.38 209.50,596.67 210.00,597.03 210.50,597.44 211.00,597.77 211.50,597.97 212.00,598.14 212.50,598.27 213.00,598.39 213.50,598.53 214.00,598.59 214.50,598.67 215.00,598.73 215.50,598.77 216.00,598.80 216.50,598.82 217.00,598.84 217.50,598.86 218.00,598.87 218.50,598.88 219.00,598.88 219.50,598.89 220.00,598.89 220.50,598.89 221.00,598.90 221.50,598.90 222.00,598.90 222.50,598.90 223.00,598.90 223.50,598.90 224.00,598.90 224.50,598.90 225.00,598.90 225.50,598.90 226.00,598.90 226.50,598.90 227.00,598.90 227.50,598.90 228.00,598.90 228.50,598.90 229.00,598.90 229.50,598.90 230.00,598.90 230.50,598.90 230.60,598.90" fill="#808080" stroke="#3c3c3c" stroke-width="0.8" stroke-linejoin="miter"/>
<line x1="154.50" y1="567.70" x2="154.50" y2="599.90" stroke="#222" stroke-width="1" />
<line x1="154.00" y1="599.40" x2="231.10" y2="599.40" stroke="#222" stroke-width="1" />
<line x1="188.50" y1="567.70" x2="188.50" y2="599.40" stroke="#2a2a2a" stroke-width="1" />
<line x1="151.90" y1="569.20" x2="154.50" y2="569.20" stroke="#333" stroke-width="0.8" />
<line x1="153.10" y1="571.36" x2="154.50" y2="571.36" stroke="#555" stroke-width="0.6" />
<line x1="151.90" y1="573.51" x2="154.50" y2="573.51" stroke="#333" stroke-width="0.8" />
<line x1="153.10" y1="575.67" x2="154.50" y2="575.67" stroke="#555" stroke-width="0.6" />
<line x1="151.90" y1="577.83" x2="154.50" y2="577.83" stroke="#333" stroke-width="0.8" />
<line x1="153.10" y1="579.99" x2="154.50" y2="579.99" stroke="#555" stroke-width="0.6" />
<line x1="151.90" y1="582.14" x2="154.50" y2="582.14" stroke="#333" stroke-width="0.8" />
<line x1="153.10" y1="584.30" x2="154.50" y2="584.30" stroke="#555" stroke-width="0.6" />
<line x1="151.90" y1="586.46" x2="154.50" y2="586.46" stroke="#333" stroke-width="0.8" />
<line x1="153.10" y1="588.61" x2="154.50" y2="588.61" stroke="#555" stroke-width="0.6" />
<line x1="151.90" y1="590.77" x2="154.50" y2="590.77" stroke="#333" stroke-width="0.8" />
<line x1="153.10" y1="592.93" x2="154.50" y2="592.93" stroke="#555" stroke-width="0.6" />
<line x1="151.90" y1="595.09" x2="154.50" y2="595.09" stroke="#333" stroke-width="0.8" />
<line x1="153.10" y1="597.24" x2="154.50" y2="597.24" stroke="#555" stroke-width="0.6" />
<line x1="154.50" y1="599.40" x2="154.50" y2="602.20" stroke="#333" stroke-width="0.7" />
<line x1="160.26" y1="599.40" x2="160.26" y2="601.10" stroke="#333" stroke-width="0.7" />
<line x1="163.64" y1="599.40" x2="163.64" y2="601.10" stroke="#333" stroke-width="0.7" />
<line x1="166.03" y1="599.40" x2="166.03" y2="601.10" stroke="#333" stroke-width="0.7" />
<line x1="167.89" y1="599.40" x2="167.89" y2="601.10" stroke="#333" stroke-width="0.7" />
<line x1="169.40" y1="599.40" x2="169.40" y2="601.10" stroke="#333" stroke-width="0.7" />
<line x1="170.68" y1="599.40" x2="170.68" y2="601.10" stroke="#333" stroke-width="0.7" />
<line x1="171.79" y1="599.40" x2="171.79" y2="601.10" stroke="#333" stroke-width="0.7" />
<line x1="172.77" y1="599.40" x2="172.77" y2="601.10" stroke="#333" stroke-width="0.7" />
<line x1="173.65" y1="599.40" x2="173.65" y2="602.20" stroke="#333" stroke-width="0.7" />
<line x1="179.41" y1="599.40" x2="179.41" y2="601.10" stroke="#333" stroke-width="0.7" />
<line x1="182.79" y1="599.40" x2="182.79" y2="601.10" stroke="#333" stroke-width="0.7" />
<line x1="185.18" y1="599.40" x2="185.18" y2="601.10" stroke="#333" stroke-width="0.7" />
<line x1="187.04" y1="599.40" x2="187.04" y2="601.10" stroke="#333" stroke-width="0.7" />
<line x1="188.55" y1="599.40" x2="188.55" y2="601.10" stroke="#333" stroke-width="0.7" />
<line x1="189.83" y1="599.40" x2="189.83" y2="601.10" stroke="#333" stroke-width="0.7" />
<line x1="190.94" y1="599.40" x2="190.94" y2="601.10" stroke="#333" stroke-width="0.7" />
<line x1="191.92" y1="599.40" x2="191.92" y2="601.10" stroke="#333" stroke-width="0.7" />
<line x1="192.80" y1="599.40" x2="192.80" y2="602.20" stroke="#333" stroke-width="0.7" />
<line x1="198.56" y1="599.40" x2="198.56" y2="601.10" stroke="#333" stroke-width="0.7" />
<line x1="201.94" y1="599.40" x2="201.94" y2="601.10" stroke="#333" stroke-width="0.7" />
<line x1="204.33" y1="599.40" x2="204.33" y2="601.10" stroke="#333" stroke-width="0.7" />
<line x1="206.19" y1="599.40" x2="206.19" y2="601.10" stroke="#333" stroke-width="0.7" />
<line x1="207.70" y1="599.40" x2="207.70" y2="601.10" stroke="#333" stroke-width="0.7" />
<line x1="208.98" y1="599.40" x2="208.98" y2="601.10" stroke="#333" stroke-width="0.7" />
<line x1="210.09" y1="599.40" x2="210.09" y2="601.10" stroke="#333" stroke-width="0.7" />
<line x1="211.07" y1="599.40" x2="211.07" y2="601.10" stroke="#333" stroke-width="0.7" />
<line x1="211.95" y1="599.40" x2="211.95" y2="602.20" stroke="#333" stroke-width="0.7" />
<line x1="217.71" y1="599.40" x2="217.71" y2="601.10" stroke="#333" stroke-width="0.7" />
<line x1="221.09" y1="599.40" x2="221.09" y2="601.10" stroke="#333" stroke-width="0.7" />
<line x1="223.48" y1="599.40" x2="223.48" y2="601.10" stroke="#333" stroke-width="0.7" />
<line x1="225.34" y1="599.40" x2="225.34" y2="601.10" stroke="#333" stroke-width="0.7" />
<line x1="226.85" y1="599.40" x2="226.85" y2="601.10" stroke="#333" stroke-width="0.7" />
<line x1="228.13" y1="599.40" x2="228.13" y2="601.10" stroke="#333" stroke-width="0.7" />
<line x1="229.24" y1="599.40" x2="229.24" y2="601.10" stroke="#333" stroke-width="0.7" />
<line x1="230.22" y1="599.40" x2="230.22" y2="601.10" stroke="#333" stroke-width="0.7" />
<text x="230.6" y="578.40" font-size="12.3" text-anchor="end" fill="#1c1c1c" transform="translate(51.88,0) scale(0.775,1)">0 Gy</text>
<text x="191.9" y="608.00" font-size="12.3" text-anchor="middle" fill="#1c1c1c" transform="translate(43.18,0) scale(0.775,1)">5T4</text>
<rect x="154.50" y="610.90" width="76.60" height="32.80" fill="#fff" stroke="#8a8a8a" stroke-width="1" />
<polygon points="155.00,643.20 155.00,643.18 155.50,643.18 156.00,643.17 156.50,643.17 157.00,643.16 157.50,643.15 158.00,643.15 158.50,643.13 159.00,643.13 159.50,643.11 160.00,643.09 160.50,643.08 161.00,643.05 161.50,643.04 162.00,643.02 162.50,643.01 163.00,642.97 163.50,642.95 164.00,642.92 164.50,642.91 165.00,642.85 165.50,642.81 166.00,642.82 166.50,642.76 167.00,642.70 167.50,642.61 168.00,642.58 168.50,642.46 169.00,642.28 169.50,641.96 170.00,641.54 170.50,641.10 171.00,640.41 171.50,639.49 172.00,638.38 172.50,636.95 173.00,635.69 173.50,633.36 174.00,630.53 174.50,629.34 175.00,626.39 175.50,625.65 176.00,622.13 176.50,619.94 177.00,618.43 177.50,617.47 178.00,616.37 178.50,614.79 179.00,613.05 179.50,615.58 180.00,615.52 180.50,612.69 181.00,612.60 181.50,613.63 182.00,614.22 182.50,613.23 183.00,615.74 183.50,616.00 184.00,617.12 184.50,616.84 185.00,619.25 185.50,621.18 186.00,621.67 186.50,623.09 187.00,626.91 187.50,628.16 188.00,630.83 188.50,632.15 189.00,634.39 189.50,636.36 190.00,637.78 190.50,639.05 191.00,639.76 191.50,640.59 192.00,641.27 192.50,641.68 193.00,642.04 193.50,642.24 194.00,642.51 194.50,642.58 195.00,642.73 195.50,642.80 196.00,642.87 196.50,642.91 197.00,642.95 197.50,642.99 198.00,643.03 198.50,643.05 199.00,643.07 199.50,643.10 200.00,643.11 200.50,643.13 201.00,643.15 201.50,643.16 202.00,643.17 202.50,643.17 203.00,643.18 203.50,643.18 204.00,643.19 204.50,643.19 205.00,643.19 205.50,643.20 206.00,643.20 206.50,643.20 207.00,643.20 207.50,643.20 208.00,643.20 208.50,643.20 209.00,643.20 209.50,643.20 210.00,643.20 210.50,643.20 211.00,643.20 211.50,643.20 212.00,643.20 212.50,643.20 213.00,643.20 213.50,643.20 214.00,643.20 214.50,643.20 215.00,643.20 215.50,643.20 216.00,643.20 216.50,643.20 217.00,643.20 217.50,643.20 218.00,643.20 218.50,643.20 219.00,643.20 219.50,643.20 220.00,643.20 220.50,643.20 221.00,643.20 221.50,643.20 222.00,643.20 222.50,643.20 223.00,643.20 223.50,643.20 224.00,643.20 224.50,643.20 225.00,643.20 225.50,643.20 226.00,643.20 226.50,643.20 227.00,643.20 227.50,643.20 228.00,643.20 228.50,643.20 229.00,643.20 229.50,643.20 230.00,643.20 230.50,643.20 230.60,643.20" fill="#808080" stroke="#3c3c3c" stroke-width="0.8" stroke-linejoin="miter"/>
<line x1="154.50" y1="610.90" x2="154.50" y2="644.20" stroke="#222" stroke-width="1" />
<line x1="154.00" y1="643.70" x2="231.10" y2="643.70" stroke="#222" stroke-width="1" />
<line x1="188.50" y1="610.90" x2="188.50" y2="643.70" stroke="#2a2a2a" stroke-width="1" />
<line x1="151.90" y1="612.40" x2="154.50" y2="612.40" stroke="#333" stroke-width="0.8" />
<line x1="153.10" y1="614.64" x2="154.50" y2="614.64" stroke="#555" stroke-width="0.6" />
<line x1="151.90" y1="616.87" x2="154.50" y2="616.87" stroke="#333" stroke-width="0.8" />
<line x1="153.10" y1="619.11" x2="154.50" y2="619.11" stroke="#555" stroke-width="0.6" />
<line x1="151.90" y1="621.34" x2="154.50" y2="621.34" stroke="#333" stroke-width="0.8" />
<line x1="153.10" y1="623.58" x2="154.50" y2="623.58" stroke="#555" stroke-width="0.6" />
<line x1="151.90" y1="625.81" x2="154.50" y2="625.81" stroke="#333" stroke-width="0.8" />
<line x1="153.10" y1="628.05" x2="154.50" y2="628.05" stroke="#555" stroke-width="0.6" />
<line x1="151.90" y1="630.29" x2="154.50" y2="630.29" stroke="#333" stroke-width="0.8" />
<line x1="153.10" y1="632.52" x2="154.50" y2="632.52" stroke="#555" stroke-width="0.6" />
<line x1="151.90" y1="634.76" x2="154.50" y2="634.76" stroke="#333" stroke-width="0.8" />
<line x1="153.10" y1="636.99" x2="154.50" y2="636.99" stroke="#555" stroke-width="0.6" />
<line x1="151.90" y1="639.23" x2="154.50" y2="639.23" stroke="#333" stroke-width="0.8" />
<line x1="153.10" y1="641.46" x2="154.50" y2="641.46" stroke="#555" stroke-width="0.6" />
<line x1="154.50" y1="643.70" x2="154.50" y2="646.50" stroke="#333" stroke-width="0.7" />
<line x1="160.26" y1="643.70" x2="160.26" y2="645.40" stroke="#333" stroke-width="0.7" />
<line x1="163.64" y1="643.70" x2="163.64" y2="645.40" stroke="#333" stroke-width="0.7" />
<line x1="166.03" y1="643.70" x2="166.03" y2="645.40" stroke="#333" stroke-width="0.7" />
<line x1="167.89" y1="643.70" x2="167.89" y2="645.40" stroke="#333" stroke-width="0.7" />
<line x1="169.40" y1="643.70" x2="169.40" y2="645.40" stroke="#333" stroke-width="0.7" />
<line x1="170.68" y1="643.70" x2="170.68" y2="645.40" stroke="#333" stroke-width="0.7" />
<line x1="171.79" y1="643.70" x2="171.79" y2="645.40" stroke="#333" stroke-width="0.7" />
<line x1="172.77" y1="643.70" x2="172.77" y2="645.40" stroke="#333" stroke-width="0.7" />
<line x1="173.65" y1="643.70" x2="173.65" y2="646.50" stroke="#333" stroke-width="0.7" />
<line x1="179.41" y1="643.70" x2="179.41" y2="645.40" stroke="#333" stroke-width="0.7" />
<line x1="182.79" y1="643.70" x2="182.79" y2="645.40" stroke="#333" stroke-width="0.7" />
<line x1="185.18" y1="643.70" x2="185.18" y2="645.40" stroke="#333" stroke-width="0.7" />
<line x1="187.04" y1="643.70" x2="187.04" y2="645.40" stroke="#333" stroke-width="0.7" />
<line x1="188.55" y1="643.70" x2="188.55" y2="645.40" stroke="#333" stroke-width="0.7" />
<line x1="189.83" y1="643.70" x2="189.83" y2="645.40" stroke="#333" stroke-width="0.7" />
<line x1="190.94" y1="643.70" x2="190.94" y2="645.40" stroke="#333" stroke-width="0.7" />
<line x1="191.92" y1="643.70" x2="191.92" y2="645.40" stroke="#333" stroke-width="0.7" />
<line x1="192.80" y1="643.70" x2="192.80" y2="646.50" stroke="#333" stroke-width="0.7" />
<line x1="198.56" y1="643.70" x2="198.56" y2="645.40" stroke="#333" stroke-width="0.7" />
<line x1="201.94" y1="643.70" x2="201.94" y2="645.40" stroke="#333" stroke-width="0.7" />
<line x1="204.33" y1="643.70" x2="204.33" y2="645.40" stroke="#333" stroke-width="0.7" />
<line x1="206.19" y1="643.70" x2="206.19" y2="645.40" stroke="#333" stroke-width="0.7" />
<line x1="207.70" y1="643.70" x2="207.70" y2="645.40" stroke="#333" stroke-width="0.7" />
<line x1="208.98" y1="643.70" x2="208.98" y2="645.40" stroke="#333" stroke-width="0.7" />
<line x1="210.09" y1="643.70" x2="210.09" y2="645.40" stroke="#333" stroke-width="0.7" />
<line x1="211.07" y1="643.70" x2="211.07" y2="645.40" stroke="#333" stroke-width="0.7" />
<line x1="211.95" y1="643.70" x2="211.95" y2="646.50" stroke="#333" stroke-width="0.7" />
<line x1="217.71" y1="643.70" x2="217.71" y2="645.40" stroke="#333" stroke-width="0.7" />
<line x1="221.09" y1="643.70" x2="221.09" y2="645.40" stroke="#333" stroke-width="0.7" />
<line x1="223.48" y1="643.70" x2="223.48" y2="645.40" stroke="#333" stroke-width="0.7" />
<line x1="225.34" y1="643.70" x2="225.34" y2="645.40" stroke="#333" stroke-width="0.7" />
<line x1="226.85" y1="643.70" x2="226.85" y2="645.40" stroke="#333" stroke-width="0.7" />
<line x1="228.13" y1="643.70" x2="228.13" y2="645.40" stroke="#333" stroke-width="0.7" />
<line x1="229.24" y1="643.70" x2="229.24" y2="645.40" stroke="#333" stroke-width="0.7" />
<line x1="230.22" y1="643.70" x2="230.22" y2="645.40" stroke="#333" stroke-width="0.7" />
<text x="230.6" y="621.30" font-size="12.3" text-anchor="end" fill="#1c1c1c" transform="translate(51.88,0) scale(0.775,1)">12 Gy</text>
<text x="194.9" y="653.30" font-size="12.3" text-anchor="middle" fill="#1c1c1c" transform="translate(43.85,0) scale(0.775,1)">isotype</text>
<rect x="154.50" y="657.40" width="76.60" height="32.40" fill="#fff" stroke="#8a8a8a" stroke-width="1" />
<polygon points="155.00,689.30 155.00,689.30 155.50,689.30 156.00,689.30 156.50,689.29 157.00,689.29 157.50,689.29 158.00,689.29 158.50,689.29 159.00,689.29 159.50,689.28 160.00,689.28 160.50,689.28 161.00,689.27 161.50,689.27 162.00,689.26 162.50,689.25 163.00,689.24 163.50,689.24 164.00,689.23 164.50,689.20 165.00,689.19 165.50,689.17 166.00,689.15 166.50,689.14 167.00,689.12 167.50,689.09 168.00,689.04 168.50,689.04 169.00,688.99 169.50,688.96 170.00,688.89 170.50,688.87 171.00,688.82 171.50,688.76 172.00,688.70 172.50,688.62 173.00,688.59 173.50,688.47 174.00,688.48 174.50,688.39 175.00,688.34 175.50,688.26 176.00,688.07 176.50,687.98 177.00,687.98 177.50,687.88 178.00,687.73 178.50,687.53 179.00,687.38 179.50,687.26 180.00,687.15 180.50,687.13 181.00,686.87 181.50,686.75 182.00,686.40 182.50,686.14 183.00,686.03 183.50,685.71 184.00,685.08 184.50,685.15 185.00,684.23 185.50,683.67 186.00,683.07 186.50,682.96 187.00,682.17 187.50,681.44 188.00,680.61 188.50,679.33 189.00,678.82 189.50,678.46 190.00,676.55 190.50,676.16 191.00,674.84 191.50,673.44 192.00,673.93 192.50,670.94 193.00,670.01 193.50,669.29 194.00,668.05 194.50,667.12 195.00,666.92 195.50,664.80 196.00,665.60 196.50,663.09 197.00,661.78 197.50,661.90 198.00,660.89 198.50,659.10 199.00,659.10 199.50,661.84 200.00,659.44 200.50,660.12 201.00,662.42 201.50,661.21 202.00,661.78 202.50,662.52 203.00,660.91 203.50,659.74 204.00,662.62 204.50,661.28 205.00,662.94 205.50,666.12 206.00,665.25 206.50,667.90 207.00,669.11 207.50,672.00 208.00,674.41 208.50,677.58 209.00,679.26 209.50,681.41 210.00,683.51 210.50,685.44 211.00,686.60 211.50,687.65 212.00,688.37 212.50,688.79 213.00,689.04 213.50,689.17 214.00,689.24 214.50,689.28 215.00,689.29 215.50,689.30 216.00,689.30 216.50,689.30 217.00,689.30 217.50,689.30 218.00,689.30 218.50,689.30 219.00,689.30 219.50,689.30 220.00,689.30 220.50,689.30 221.00,689.30 221.50,689.30 222.00,689.30 222.50,689.30 223.00,689.30 223.50,689.30 224.00,689.30 224.50,689.30 225.00,689.30 225.50,689.30 226.00,689.30 226.50,689.30 227.00,689.30 227.50,689.30 228.00,689.30 228.50,689.30 229.00,689.30 229.50,689.30 230.00,689.30 230.50,689.30 230.60,689.30" fill="#808080" stroke="#3c3c3c" stroke-width="0.8" stroke-linejoin="miter"/>
<line x1="154.50" y1="657.40" x2="154.50" y2="690.30" stroke="#222" stroke-width="1" />
<line x1="154.00" y1="689.80" x2="231.10" y2="689.80" stroke="#222" stroke-width="1" />
<line x1="188.50" y1="657.40" x2="188.50" y2="689.80" stroke="#2a2a2a" stroke-width="1" />
<line x1="151.90" y1="658.90" x2="154.50" y2="658.90" stroke="#333" stroke-width="0.8" />
<line x1="153.10" y1="661.11" x2="154.50" y2="661.11" stroke="#555" stroke-width="0.6" />
<line x1="151.90" y1="663.31" x2="154.50" y2="663.31" stroke="#333" stroke-width="0.8" />
<line x1="153.10" y1="665.52" x2="154.50" y2="665.52" stroke="#555" stroke-width="0.6" />
<line x1="151.90" y1="667.73" x2="154.50" y2="667.73" stroke="#333" stroke-width="0.8" />
<line x1="153.10" y1="669.94" x2="154.50" y2="669.94" stroke="#555" stroke-width="0.6" />
<line x1="151.90" y1="672.14" x2="154.50" y2="672.14" stroke="#333" stroke-width="0.8" />
<line x1="153.10" y1="674.35" x2="154.50" y2="674.35" stroke="#555" stroke-width="0.6" />
<line x1="151.90" y1="676.56" x2="154.50" y2="676.56" stroke="#333" stroke-width="0.8" />
<line x1="153.10" y1="678.76" x2="154.50" y2="678.76" stroke="#555" stroke-width="0.6" />
<line x1="151.90" y1="680.97" x2="154.50" y2="680.97" stroke="#333" stroke-width="0.8" />
<line x1="153.10" y1="683.18" x2="154.50" y2="683.18" stroke="#555" stroke-width="0.6" />
<line x1="151.90" y1="685.39" x2="154.50" y2="685.39" stroke="#333" stroke-width="0.8" />
<line x1="153.10" y1="687.59" x2="154.50" y2="687.59" stroke="#555" stroke-width="0.6" />
<line x1="154.50" y1="689.80" x2="154.50" y2="692.60" stroke="#333" stroke-width="0.7" />
<line x1="160.26" y1="689.80" x2="160.26" y2="691.50" stroke="#333" stroke-width="0.7" />
<line x1="163.64" y1="689.80" x2="163.64" y2="691.50" stroke="#333" stroke-width="0.7" />
<line x1="166.03" y1="689.80" x2="166.03" y2="691.50" stroke="#333" stroke-width="0.7" />
<line x1="167.89" y1="689.80" x2="167.89" y2="691.50" stroke="#333" stroke-width="0.7" />
<line x1="169.40" y1="689.80" x2="169.40" y2="691.50" stroke="#333" stroke-width="0.7" />
<line x1="170.68" y1="689.80" x2="170.68" y2="691.50" stroke="#333" stroke-width="0.7" />
<line x1="171.79" y1="689.80" x2="171.79" y2="691.50" stroke="#333" stroke-width="0.7" />
<line x1="172.77" y1="689.80" x2="172.77" y2="691.50" stroke="#333" stroke-width="0.7" />
<line x1="173.65" y1="689.80" x2="173.65" y2="692.60" stroke="#333" stroke-width="0.7" />
<line x1="179.41" y1="689.80" x2="179.41" y2="691.50" stroke="#333" stroke-width="0.7" />
<line x1="182.79" y1="689.80" x2="182.79" y2="691.50" stroke="#333" stroke-width="0.7" />
<line x1="185.18" y1="689.80" x2="185.18" y2="691.50" stroke="#333" stroke-width="0.7" />
<line x1="187.04" y1="689.80" x2="187.04" y2="691.50" stroke="#333" stroke-width="0.7" />
<line x1="188.55" y1="689.80" x2="188.55" y2="691.50" stroke="#333" stroke-width="0.7" />
<line x1="189.83" y1="689.80" x2="189.83" y2="691.50" stroke="#333" stroke-width="0.7" />
<line x1="190.94" y1="689.80" x2="190.94" y2="691.50" stroke="#333" stroke-width="0.7" />
<line x1="191.92" y1="689.80" x2="191.92" y2="691.50" stroke="#333" stroke-width="0.7" />
<line x1="192.80" y1="689.80" x2="192.80" y2="692.60" stroke="#333" stroke-width="0.7" />
<line x1="198.56" y1="689.80" x2="198.56" y2="691.50" stroke="#333" stroke-width="0.7" />
<line x1="201.94" y1="689.80" x2="201.94" y2="691.50" stroke="#333" stroke-width="0.7" />
<line x1="204.33" y1="689.80" x2="204.33" y2="691.50" stroke="#333" stroke-width="0.7" />
<line x1="206.19" y1="689.80" x2="206.19" y2="691.50" stroke="#333" stroke-width="0.7" />
<line x1="207.70" y1="689.80" x2="207.70" y2="691.50" stroke="#333" stroke-width="0.7" />
<line x1="208.98" y1="689.80" x2="208.98" y2="691.50" stroke="#333" stroke-width="0.7" />
<line x1="210.09" y1="689.80" x2="210.09" y2="691.50" stroke="#333" stroke-width="0.7" />
<line x1="211.07" y1="689.80" x2="211.07" y2="691.50" stroke="#333" stroke-width="0.7" />
<line x1="211.95" y1="689.80" x2="211.95" y2="692.60" stroke="#333" stroke-width="0.7" />
<line x1="217.71" y1="689.80" x2="217.71" y2="691.50" stroke="#333" stroke-width="0.7" />
<line x1="221.09" y1="689.80" x2="221.09" y2="691.50" stroke="#333" stroke-width="0.7" />
<line x1="223.48" y1="689.80" x2="223.48" y2="691.50" stroke="#333" stroke-width="0.7" />
<line x1="225.34" y1="689.80" x2="225.34" y2="691.50" stroke="#333" stroke-width="0.7" />
<line x1="226.85" y1="689.80" x2="226.85" y2="691.50" stroke="#333" stroke-width="0.7" />
<line x1="228.13" y1="689.80" x2="228.13" y2="691.50" stroke="#333" stroke-width="0.7" />
<line x1="229.24" y1="689.80" x2="229.24" y2="691.50" stroke="#333" stroke-width="0.7" />
<line x1="230.22" y1="689.80" x2="230.22" y2="691.50" stroke="#333" stroke-width="0.7" />
<text x="231" y="669.40" font-size="12.3" text-anchor="end" fill="#1c1c1c" transform="translate(51.97,0) scale(0.775,1)">12 Gy</text>
<text x="192.1" y="702.10" font-size="12.3" text-anchor="middle" fill="#1c1c1c" transform="translate(43.22,0) scale(0.775,1)">5T4</text>
<text x="258.50" y="516.20" font-size="16" text-anchor="start" font-weight="bold" fill="#111" >E</text>
<defs>
<filter id="b1" x="-30%" y="-60%" width="160%" height="220%"><feGaussianBlur stdDeviation="0.9"/></filter>
<filter id="b1h" x="-30%" y="-60%" width="160%" height="220%"><feGaussianBlur stdDeviation="1.5"/></filter>
<filter id="b2" x="-30%" y="-50%" width="160%" height="200%"><feGaussianBlur stdDeviation="1.5"/></filter>
<filter id="b3" x="-30%" y="-120%" width="160%" height="340%"><feGaussianBlur stdDeviation="0.65"/></filter>
<linearGradient id="blotbg" x1="0" y1="0" x2="0" y2="1">
<stop offset="0" stop-color="#b4b4b4"/><stop offset="0.35" stop-color="#aeaeae"/><stop offset="0.7" stop-color="#b6b6b6"/><stop offset="1" stop-color="#c0c0c0"/></linearGradient>
<linearGradient id="smear" x1="0" y1="0" x2="0" y2="1">
<stop offset="0" stop-color="#8e8e8e"/><stop offset="0.3" stop-color="#757575"/><stop offset="0.6" stop-color="#808080"/><stop offset="0.85" stop-color="#929292"/><stop offset="1" stop-color="#a8a8a8"/></linearGradient>
<linearGradient id="smear2" x1="0" y1="0" x2="0" y2="1">
<stop offset="0" stop-color="#868686"/><stop offset="0.3" stop-color="#6a6a6a"/><stop offset="0.6" stop-color="#747474"/><stop offset="0.85" stop-color="#8a8a8a"/><stop offset="1" stop-color="#a4a4a4"/></linearGradient>
<clipPath id="blotclip"><rect x="270.5" y="547" width="76.8" height="123.4"/></clipPath>
</defs>
<rect x="270.50" y="547.00" width="76.80" height="123.40" fill="url(#blotbg)" stroke="none" stroke-width="1" />
<g clip-path="url(#blotclip)">
<rect x="298.8" y="570.8" width="14.2" height="20" rx="3" fill="url(#smear)" filter="url(#b2)"/>
<rect x="300" y="574.5" width="12" height="7.5" rx="2" fill="#6e6e6e" opacity="0.75" filter="url(#b2)"/>
<rect x="318.8" y="574.5" width="13.6" height="8" rx="2" fill="#626262" opacity="0.8" filter="url(#b2)"/>
<rect x="317.8" y="570.8" width="15.6" height="20.5" rx="3" fill="url(#smear2)" filter="url(#b2)"/>
<rect x="290" y="631.8" width="39" height="11.8" rx="5.5" fill="#787878" filter="url(#b1h)"/>
<g filter="url(#b1)"><rect x="291.5" y="633.8" width="18.5" height="8.4" rx="4.2" fill="#464646"/><rect x="309" y="634.6" width="19.5" height="8.2" rx="4.1" fill="#494949"/></g>
<rect x="275.5" y="555.5" width="12.0" height="3" rx="1.4" fill="#2c2c2c" filter="url(#b3)"/>
<rect x="275.2" y="584.3" width="11.800000000000011" height="3" rx="1.4" fill="#2c2c2c" filter="url(#b3)"/>
<rect x="272.6" y="613.9" width="11.399999999999977" height="3" rx="1.4" fill="#2c2c2c" filter="url(#b3)"/>
<rect x="272.6" y="660.5" width="9.199999999999989" height="3" rx="1.4" fill="#2c2c2c" filter="url(#b3)"/>
<path d="M272.6 641.2 L279.5 640.7 L283.2 639.3" stroke="#2c2c2c" stroke-width="3" stroke-linecap="round" stroke-linejoin="round" fill="none" filter="url(#b3)"/>
<path d="M283.3 638 L283.1 628.5" stroke="#9c9c9c" stroke-width="1.8" fill="none" filter="url(#b1)"/>
</g>
<text x="278.70" y="542.00" font-size="10" text-anchor="middle" font-weight="bold" fill="#111" >M</text>
<text x="303.70" y="542.00" font-size="10" text-anchor="middle" font-weight="bold" fill="#111" >1</text>
<text x="328.30" y="542.00" font-size="10" text-anchor="middle" font-weight="bold" fill="#111" >2</text>
<text x="255.30" y="562.50" font-size="10" text-anchor="start" font-weight="bold" fill="#111" >98</text>
<text x="255.30" y="588.75" font-size="10" text-anchor="start" font-weight="bold" fill="#111" >64</text>
<text x="255.30" y="615.00" font-size="10" text-anchor="start" font-weight="bold" fill="#111" >50</text>
<text x="255.30" y="641.25" font-size="10" text-anchor="start" font-weight="bold" fill="#111" >36</text>
<text x="255.30" y="667.50" font-size="10" text-anchor="start" font-weight="bold" fill="#111" >22</text>
<text x="350.00" y="588.00" font-size="13" text-anchor="start" font-weight="normal" fill="#1c1c1c" >5T4</text>
<text x="350.00" y="646.00" font-size="13" text-anchor="start" font-weight="normal" fill="#1c1c1c" >GAPDH</text>
<text x="287.00" y="691.50" font-size="11.5" text-anchor="start" font-weight="normal" fill="#1c1c1c" >M</text>
<text x="307.50" y="691.50" font-size="11.5" text-anchor="start" font-weight="normal" fill="#1c1c1c" >= Marker</text>
<text x="287.00" y="704.75" font-size="11.5" text-anchor="start" font-weight="normal" fill="#1c1c1c" >1</text>
<text x="307.50" y="704.75" font-size="11.5" text-anchor="start" font-weight="normal" fill="#1c1c1c" >= 0 Gy</text>
<text x="287.00" y="718.00" font-size="11.5" text-anchor="start" font-weight="normal" fill="#1c1c1c" >2</text>
<text x="307.50" y="718.00" font-size="11.5" text-anchor="start" font-weight="normal" fill="#1c1c1c" >= 12 Gy</text>
<line x1="447.00" y1="535.00" x2="447.00" y2="664.50" stroke="#5a5a5a" stroke-width="1" />
<line x1="446.50" y1="664.50" x2="514.00" y2="664.50" stroke="#444" stroke-width="1" />
<text x="441.00" y="668.20" font-size="10" text-anchor="end" font-weight="normal" fill="#1c1c1c" >0.0</text>
<line x1="444.50" y1="645.50" x2="447.00" y2="645.50" stroke="#777" stroke-width="1" />
<text x="441.00" y="649.20" font-size="10" text-anchor="end" font-weight="normal" fill="#1c1c1c" >0.2</text>
<line x1="444.50" y1="627.50" x2="447.00" y2="627.50" stroke="#777" stroke-width="1" />
<text x="441.00" y="631.20" font-size="10" text-anchor="end" font-weight="normal" fill="#1c1c1c" >0.4</text>
<line x1="444.50" y1="608.50" x2="447.00" y2="608.50" stroke="#777" stroke-width="1" />
<text x="441.00" y="612.20" font-size="10" text-anchor="end" font-weight="normal" fill="#1c1c1c" >0.6</text>
<line x1="444.50" y1="590.50" x2="447.00" y2="590.50" stroke="#777" stroke-width="1" />
<text x="441.00" y="594.20" font-size="10" text-anchor="end" font-weight="normal" fill="#1c1c1c" >0.8</text>
<line x1="444.50" y1="572.50" x2="447.00" y2="572.50" stroke="#777" stroke-width="1" />
<text x="441.00" y="576.20" font-size="10" text-anchor="end" font-weight="normal" fill="#1c1c1c" >1.0</text>
<line x1="444.50" y1="553.50" x2="447.00" y2="553.50" stroke="#777" stroke-width="1" />
<text x="441.00" y="557.20" font-size="10" text-anchor="end" font-weight="normal" fill="#1c1c1c" >1.2</text>
<line x1="444.50" y1="535.50" x2="447.00" y2="535.50" stroke="#777" stroke-width="1" />
<text x="441.00" y="539.20" font-size="10" text-anchor="end" font-weight="normal" fill="#1c1c1c" >1.4</text>
<text transform="translate(418.70,660.00) rotate(-90)" font-size="12" text-anchor="start" fill="#1c1c1c"  textLength="120.7" lengthAdjust="spacingAndGlyphs">Adjusted density (5T4)</text>
<rect x="462.40" y="572.00" width="13.60" height="92.50" fill="#1a1a1a" stroke="none" stroke-width="1" />
<rect x="484.50" y="548.03" width="13.70" height="116.47" fill="#1a1a1a" stroke="none" stroke-width="1" />
<line x1="469.40" y1="664.50" x2="469.40" y2="667.00" stroke="#666" stroke-width="1" />
<line x1="491.70" y1="664.50" x2="491.70" y2="667.00" stroke="#666" stroke-width="1" />
<text x="470.60" y="679.30" font-size="12" text-anchor="middle" font-weight="normal" fill="#1c1c1c" >0</text>
<text x="482.30" y="679.30" font-size="12" text-anchor="start" font-weight="normal" fill="#1c1c1c" >12 (Gy)</text>
</svg>
</body></html>
